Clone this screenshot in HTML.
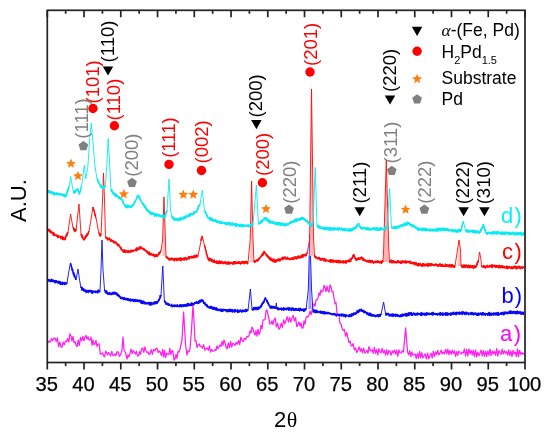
<!DOCTYPE html>
<html><head><meta charset="utf-8"><style>
html,body{margin:0;padding:0;background:#fff;}
svg{display:block;font-family:"Liberation Sans",Arial,sans-serif;}
</style></head><body>
<svg width="550" height="437" viewBox="0 0 550 437">
<rect width="550" height="437" fill="#fff"/>
<g fill="none" stroke="#ff1ff0" stroke-width="1.25" stroke-linejoin="round"><polyline points="48.0,343.0 49.2,340.9 50.3,342.1 51.5,338.7 52.7,340.6 53.8,338.2 55.0,338.0 56.2,341.6 57.4,337.9 58.6,346.7 59.8,342.0 61.0,347.0 62.1,347.0 63.2,342.2 64.3,344.7 65.4,341.1 66.6,341.7 67.7,338.5 68.8,342.2 69.9,333.8 71.0,336.0 72.0,341.1 73.0,336.3 74.0,342.5 75.0,341.7 76.0,345.0 77.1,346.7 78.2,340.0 79.4,345.5 80.5,337.4 81.6,340.7 82.8,336.4 83.9,340.8 85.0,337.0 86.0,335.4 87.0,339.2 88.0,336.7 89.0,340.1 90.0,340.0 91.0,337.0 92.0,345.1 93.0,340.0 94.0,344.7 95.0,344.0 96.0,340.3 97.0,346.5 98.0,344.0 99.2,343.8 100.3,354.1 101.5,354.0 102.6,352.8 103.7,356.0 104.7,356.8 105.6,351.2 106.6,352.6 107.6,355.0 108.5,352.6 109.5,354.0 110.6,355.9 111.8,351.4 112.9,355.7 114.0,355.5 114.9,353.8 115.9,355.8 116.8,352.0 118.0,351.6 119.3,356.3 120.5,355.0 122.0,350.0 123.0,337.0 124.0,350.0 125.5,352.6 127.0,359.0 128.0,355.0 129.0,356.9 130.0,353.4 131.1,349.1 132.2,353.8 133.2,350.5 134.3,352.0 135.4,354.0 136.4,351.1 137.5,356.0 138.6,355.5 139.6,351.7 140.5,354.3 141.5,349.0 142.6,347.9 143.8,352.4 144.9,346.8 146.0,351.0 147.0,352.5 148.0,351.9 149.0,354.5 150.0,354.0 151.2,349.7 152.4,354.3 153.6,349.3 154.8,351.0 156.0,348.3 157.1,348.3 158.2,352.5 159.4,351.0 160.5,352.6 161.5,355.7 162.6,349.4 163.6,357.0 164.6,350.4 165.6,357.5 166.7,353.3 167.7,354.0 168.8,354.6 169.8,348.4 170.9,354.6 172.0,350.5 173.0,351.5 174.0,360.0 175.0,359.0 176.0,354.4 177.0,358.3 178.0,351.5 179.0,352.1 180.0,349.0 182.0,340.0 183.6,312.0 185.0,335.0 185.6,345.0 187.0,355.0 188.0,351.0 189.0,351.9 190.0,349.0 191.5,330.0 193.0,305.0 194.5,330.0 195.0,341.0 196.0,340.6 197.0,347.5 198.0,345.0 199.1,344.0 200.3,346.6 201.4,346.2 202.6,348.3 203.7,344.6 204.9,350.1 206.0,349.0 207.1,347.8 208.3,350.3 209.4,345.9 210.6,352.1 211.7,349.3 212.9,351.3 214.0,351.0 215.0,349.6 216.0,350.4 217.0,345.8 218.0,348.7 219.0,347.0 220.0,345.1 221.0,346.4 222.0,341.5 223.0,345.4 224.0,340.0 225.0,342.7 226.0,347.0 227.1,348.9 228.3,343.0 229.4,347.6 230.6,341.3 231.7,347.0 232.9,343.2 234.0,344.0 235.1,345.3 236.3,342.3 237.4,344.2 238.6,340.4 239.7,344.7 240.9,337.2 242.0,340.0 243.2,341.6 244.4,338.3 245.6,339.5 246.8,336.3 248.0,337.0 249.0,335.6 250.0,330.8 251.0,333.0 252.0,327.0 253.0,328.8 254.0,332.9 255.0,335.0 256.0,330.7 257.0,336.2 258.0,329.2 259.0,334.5 260.0,332.0 261.0,325.4 262.0,328.8 263.0,319.8 264.0,320.0 265.0,319.7 266.0,311.2 267.0,310.0 270.0,324.0 271.0,323.7 272.0,320.8 273.0,324.5 274.0,320.0 275.2,318.0 276.4,326.9 277.6,323.2 278.8,329.2 280.0,328.0 281.2,323.1 282.4,327.5 283.6,319.9 284.8,323.9 286.0,320.0 287.2,316.8 288.4,322.1 289.6,317.4 290.8,322.1 292.0,318.0 293.2,315.4 294.4,321.1 295.6,317.7 296.8,326.7 298.0,324.0 299.0,322.0 300.0,326.2 301.0,322.8 302.0,328.1 303.0,328.0 304.0,320.8 305.0,324.1 306.0,318.0 307.0,316.4 308.0,317.0 309.0,315.0 310.0,311.0 311.0,314.8 312.0,311.0 313.0,304.4 314.0,304.0 315.0,306.2 316.0,299.8 317.0,299.9 318.0,298.0 319.0,292.8 320.0,295.4 321.0,289.9 322.0,292.0 323.0,291.2 324.0,285.4 325.0,287.0 326.0,291.6 327.0,286.1 328.0,291.0 329.0,292.0 330.0,284.8 331.0,287.0 332.0,291.8 333.0,291.5 334.0,298.0 335.0,303.6 336.0,302.4 337.0,313.2 338.0,314.0 339.0,315.4 340.0,323.3 341.0,324.0 342.0,328.0 343.2,330.5 344.4,329.5 345.6,336.2 346.8,332.5 348.0,338.0 349.0,342.6 350.0,341.1 351.0,345.7 352.0,346.0 353.2,343.6 354.4,349.9 355.6,348.0 356.8,352.6 358.0,350.0 359.1,346.9 360.3,351.3 361.4,348.5 362.6,352.9 363.7,348.2 364.9,353.2 366.0,352.0 367.0,350.3 368.0,353.2 369.0,346.6 370.0,350.0 371.1,351.0 372.2,349.6 373.3,353.3 374.4,347.3 375.6,353.4 376.7,349.4 377.8,355.0 378.9,348.6 380.0,352.0 381.1,352.6 382.2,348.3 383.3,352.9 384.4,350.3 385.6,355.1 386.7,349.7 387.8,354.9 388.9,350.6 390.0,351.5 391.1,355.2 392.2,350.8 393.3,352.9 394.4,350.0 395.6,354.0 396.7,350.1 397.8,356.3 398.9,349.9 400.0,353.0 401.2,353.1 402.3,350.8 403.5,352.0 405.6,328.0 407.6,352.0 408.7,354.9 409.7,350.8 410.8,356.5 411.9,351.9 412.9,355.2 414.0,355.0 415.1,353.8 416.2,358.6 417.3,353.5 418.4,358.4 419.6,351.3 420.7,358.0 421.8,352.6 422.9,358.0 424.0,355.5 425.2,353.9 426.4,359.0 427.6,353.1 428.8,358.8 430.0,355.0 431.1,353.3 432.2,358.1 433.3,351.1 434.4,356.7 435.6,351.9 436.7,354.6 437.8,350.3 438.9,354.9 440.0,353.0 441.1,350.2 442.2,353.8 443.3,352.2 444.4,353.8 445.6,349.5 446.7,353.9 447.8,349.2 448.9,354.5 450.0,350.3 451.1,354.4 452.2,350.1 453.3,353.4 454.4,350.8 455.6,356.4 456.7,351.5 457.8,355.3 458.9,351.0 460.0,352.5 461.1,354.0 462.2,352.1 463.3,353.1 464.4,348.8 465.6,356.0 466.7,349.4 467.8,356.0 468.9,348.9 470.0,353.7 471.1,350.3 472.2,355.0 473.3,350.4 474.4,356.6 475.6,349.8 476.7,356.8 477.8,352.1 478.9,355.7 480.0,353.0 481.1,350.1 482.2,356.0 483.3,350.3 484.4,356.3 485.6,351.4 486.7,356.6 487.8,350.9 488.9,355.3 490.0,349.1 491.1,355.7 492.2,351.2 493.3,353.9 494.4,351.1 495.6,355.3 496.7,348.6 497.8,356.2 498.9,350.7 500.0,352.5 501.1,354.4 502.2,349.2 503.3,354.0 504.4,350.7 505.5,353.1 506.5,351.6 507.6,355.0 508.7,349.8 509.8,355.3 510.9,351.0 512.0,356.6 513.1,350.1 514.2,353.8 515.3,352.2 516.4,356.7 517.5,348.9 518.5,356.6 519.6,350.3 520.7,354.5 521.8,352.2 522.9,354.3 524.0,353.0"/></g><polygon points="308.3,309 309.8,234 311.6,309" fill="#a0a0f8"/><g fill="none" stroke="#0a0af5" stroke-width="0.9" stroke-linejoin="round"><polyline points="47.0,280.0 47.4,279.6 47.8,281.0 48.2,279.6 48.6,281.2 49.0,279.3 49.4,280.6 49.8,280.3 50.2,281.8 50.6,280.1 51.0,281.1 51.4,279.2 51.8,281.6 52.2,279.6 52.6,281.7 53.0,281.0 53.4,280.1 53.8,281.6 54.2,280.3 54.6,282.7 55.0,280.6 55.4,282.8 55.8,280.6 56.2,282.0 56.6,280.7 57.0,282.0 57.4,283.0 57.8,281.6 58.2,282.5 58.6,281.1 59.0,283.3 59.4,281.5 59.8,284.0 60.2,281.7 60.6,284.3 61.0,282.3 61.4,284.3 61.8,282.4 62.2,284.7 62.6,282.1 63.0,283.8 63.4,283.3 63.8,284.1 64.2,282.3 64.6,284.6 65.0,284.0 65.4,282.8 65.8,284.2 66.2,282.6 66.6,283.9 67.0,283.0 68.6,273.0 70.4,263.0 70.8,263.9 71.3,266.9 71.7,266.6 72.1,270.4 72.6,269.4 73.0,272.0 73.4,274.4 73.8,272.7 74.2,276.5 74.6,274.9 75.0,277.0 75.5,278.9 76.0,280.0 78.0,269.0 79.4,279.0 81.0,288.0 81.4,287.0 81.8,290.1 82.2,287.5 82.6,290.1 83.0,288.4 83.4,290.2 83.8,288.8 84.2,291.3 84.6,290.2 85.0,291.0 85.4,291.3 85.8,289.8 86.2,292.6 86.6,290.9 87.0,292.4 87.4,290.5 87.8,291.6 88.2,290.8 88.6,292.5 89.0,290.1 89.4,291.6 89.8,290.5 90.2,291.7 90.6,290.4 91.0,292.2 91.4,290.3 91.8,293.2 92.2,290.9 92.6,293.3 93.0,291.2 93.4,292.1 93.8,290.9 94.2,292.1 94.6,291.5 95.0,292.0 95.4,292.6 95.8,290.9 96.2,292.1 96.7,291.5 97.1,292.9 97.5,290.9 97.9,292.9 98.3,290.0 98.8,291.9 99.2,290.4 99.6,291.9 100.0,291.0 101.0,270.0 102.0,240.0 103.0,270.0 104.6,291.0 105.0,290.3 105.4,292.5 105.8,290.9 106.2,293.1 106.6,290.9 107.0,293.5 107.4,292.2 107.8,294.3 108.2,293.0 108.6,294.3 109.0,294.0 109.4,292.5 109.8,294.7 110.2,292.9 110.6,293.9 110.9,293.0 111.3,294.6 111.7,293.4 112.1,294.5 112.5,292.5 112.9,293.7 113.3,292.4 113.7,294.1 114.1,292.2 114.4,293.8 114.8,292.1 115.2,294.3 115.6,292.9 116.0,293.0 116.4,293.6 116.8,292.8 117.2,295.7 117.7,294.2 118.1,295.8 118.5,294.5 118.9,296.5 119.3,295.7 119.8,297.3 120.2,296.5 120.6,298.5 121.0,298.0 121.4,297.5 121.8,298.9 122.2,297.1 122.6,298.6 123.0,297.6 123.4,299.7 123.8,298.1 124.2,299.3 124.6,297.7 125.0,299.5 125.4,298.7 125.8,299.9 126.2,298.2 126.6,299.7 127.0,298.9 127.4,300.2 127.8,298.4 128.2,300.5 128.6,298.6 129.0,300.0 129.4,300.4 129.8,299.5 130.2,301.1 130.6,298.8 131.0,301.0 131.4,299.8 131.8,300.6 132.2,299.5 132.6,300.8 133.0,299.2 133.4,301.7 133.8,300.1 134.2,301.0 134.6,299.3 135.0,301.6 135.4,299.4 135.8,301.3 136.2,300.4 136.6,301.3 137.0,299.6 137.4,301.4 137.8,300.3 138.2,301.6 138.6,300.2 139.0,301.0 139.4,301.8 139.8,299.9 140.2,301.8 140.6,301.4 141.0,303.1 141.4,300.5 141.8,303.4 142.2,301.3 142.6,303.6 143.0,300.9 143.4,302.9 143.8,301.4 144.2,304.0 144.6,301.8 145.0,303.0 145.4,303.9 145.8,302.6 146.2,303.9 146.7,302.9 147.1,303.7 147.5,302.6 147.9,304.1 148.3,302.4 148.8,304.0 149.2,302.5 149.6,305.0 150.0,304.0 150.4,302.5 150.8,305.2 151.2,302.3 151.6,304.5 152.0,303.3 152.4,304.6 152.8,302.9 153.2,303.8 153.6,302.1 154.0,303.9 154.4,302.2 154.8,304.2 155.2,301.7 155.6,303.2 156.0,302.0 156.4,303.7 156.8,301.5 157.2,303.4 157.6,301.5 158.0,302.0 158.4,301.5 158.8,299.4 159.1,300.6 159.5,298.1 159.9,298.8 160.2,295.4 160.6,297.1 161.0,295.0 162.8,266.0 164.4,302.0 164.8,301.0 165.2,302.7 165.6,301.8 166.0,304.3 166.4,303.0 166.8,304.0 167.2,303.2 167.6,304.9 168.0,303.5 168.4,305.3 168.8,303.6 169.2,305.2 169.6,305.0 170.0,305.5 170.4,305.8 170.8,305.2 171.2,305.8 171.6,304.1 172.0,306.9 172.4,305.4 172.8,306.5 173.2,305.1 173.6,306.3 174.0,305.1 174.4,306.7 174.8,304.8 175.2,306.4 175.6,305.4 176.0,306.4 176.4,305.5 176.8,306.7 177.2,304.7 177.6,306.5 178.0,305.6 178.4,306.3 178.8,305.3 179.2,306.9 179.6,304.8 180.0,306.0 180.4,306.6 180.8,304.6 181.2,306.8 181.6,305.0 182.0,306.3 182.4,304.8 182.8,306.7 183.2,304.8 183.7,306.5 184.1,304.6 184.5,305.8 184.9,304.4 185.3,306.3 185.7,304.9 186.1,305.8 186.5,304.3 186.9,306.3 187.3,303.5 187.7,305.5 188.1,303.4 188.5,305.9 188.9,304.1 189.3,305.3 189.8,304.2 190.2,305.7 190.6,303.3 191.0,305.7 191.4,303.0 191.8,305.2 192.2,303.0 192.6,305.0 193.0,304.0 193.4,303.6 193.8,304.7 194.2,303.4 194.6,303.8 195.0,302.1 195.3,303.4 195.7,302.7 196.1,303.2 196.5,301.4 196.9,303.0 197.3,302.3 197.7,303.6 198.1,301.8 198.5,303.3 198.9,300.8 199.3,303.0 199.7,300.2 200.1,302.4 200.4,300.1 200.8,301.4 201.2,299.8 201.6,301.7 202.0,299.6 202.4,300.6 202.8,301.4 203.2,300.4 203.6,303.4 204.0,302.2 204.4,303.5 204.8,302.4 205.2,305.1 205.6,303.8 206.0,305.1 206.4,304.7 206.8,306.6 207.2,304.9 207.6,307.2 208.0,307.0 208.4,306.5 208.8,307.9 209.2,306.7 209.6,308.1 210.0,307.2 210.4,308.4 210.8,306.2 211.2,308.5 211.6,306.7 212.0,308.4 212.4,307.0 212.8,309.4 213.2,307.2 213.6,309.2 214.0,307.7 214.4,309.6 214.8,307.3 215.2,309.2 215.6,308.6 216.0,310.2 216.4,307.7 216.8,310.0 217.2,308.6 217.6,310.5 218.0,309.1 218.4,310.1 218.8,309.3 219.2,310.7 219.6,309.3 220.0,310.0 220.4,310.5 220.8,309.0 221.2,311.5 221.6,309.5 222.0,311.2 222.4,309.4 222.8,311.4 223.2,309.2 223.6,310.7 224.0,309.8 224.4,310.4 224.8,309.4 225.2,310.9 225.6,309.9 226.0,310.9 226.4,309.7 226.8,311.5 227.2,310.0 227.6,311.9 228.0,309.6 228.4,311.4 228.8,309.7 229.2,311.7 229.6,309.2 230.0,311.4 230.4,309.7 230.8,311.7 231.2,309.3 231.6,311.3 232.0,309.5 232.4,312.1 232.8,309.9 233.2,311.1 233.6,310.2 234.0,311.8 234.4,309.7 234.8,312.2 235.2,309.5 235.6,311.3 236.0,310.4 236.4,311.3 236.8,310.4 237.2,312.0 237.6,309.6 238.0,312.3 238.4,310.4 238.8,312.3 239.2,310.4 239.6,311.7 240.0,311.0 240.4,309.8 240.8,311.2 241.2,310.6 241.6,312.2 242.0,310.3 242.4,311.5 242.8,309.9 243.2,311.9 243.6,310.6 244.0,311.4 244.4,310.0 244.8,311.5 245.2,310.2 245.6,311.6 246.0,309.2 246.4,311.3 246.8,309.7 247.2,310.9 247.6,310.0 248.0,310.5 250.4,289.0 252.0,309.0 252.4,310.0 252.8,308.6 253.2,310.2 253.6,307.4 254.0,309.0 254.4,307.3 254.8,309.3 255.2,307.4 255.6,309.7 256.0,308.0 256.4,309.5 256.8,307.4 257.2,309.6 257.6,307.8 258.0,309.4 258.4,306.8 258.8,309.2 259.2,307.2 259.6,308.4 260.0,308.0 260.4,306.5 260.8,307.3 261.2,304.8 261.6,306.3 262.0,303.7 262.4,304.3 262.8,302.2 263.2,303.5 263.6,301.4 264.0,302.5 264.4,299.4 264.8,300.1 265.2,297.7 265.6,298.4 266.0,299.5 266.4,299.4 266.8,301.9 267.2,300.6 267.6,303.2 268.0,302.1 268.4,304.6 268.8,304.1 269.2,305.8 269.6,306.0 270.0,307.0 270.4,308.2 270.8,306.0 271.2,308.1 271.6,306.1 272.0,308.0 272.4,306.9 272.8,308.1 273.2,306.2 273.6,307.8 274.0,306.8 274.4,308.2 274.8,306.6 275.2,308.5 275.6,307.3 276.0,308.0 276.3,303.0 276.6,308.0 277.0,308.8 277.5,307.4 277.9,309.6 278.3,307.9 278.7,309.9 279.1,308.4 279.6,309.4 280.0,309.0 280.4,308.7 280.8,309.3 281.2,307.8 281.6,310.1 282.0,308.6 282.4,309.4 282.8,308.3 283.2,310.2 283.6,307.7 284.0,310.2 284.4,308.1 284.8,309.3 285.2,308.3 285.6,309.4 286.0,308.1 286.4,309.9 286.8,308.6 287.2,309.5 287.6,307.8 288.0,309.2 288.4,307.8 288.8,310.4 289.2,307.6 289.6,309.7 290.0,309.0 290.4,308.1 290.8,310.0 291.2,308.1 291.6,310.6 292.0,308.0 292.4,309.7 292.8,307.9 293.2,310.0 293.6,308.3 294.0,310.4 294.4,309.1 294.8,310.5 295.2,308.3 295.6,310.2 296.0,308.5 296.4,310.2 296.8,309.0 297.2,310.3 297.6,309.3 298.0,310.3 298.4,308.5 298.8,310.3 299.2,308.7 299.6,311.0 300.0,308.3 300.4,310.0 300.8,308.5 301.2,310.7 301.6,309.5 302.0,310.4 302.4,309.3 302.8,310.1 303.2,308.9 303.6,311.3 304.0,309.3 304.4,311.2 304.8,308.8 305.2,310.3 305.6,308.7 306.0,310.0 308.3,290.0 309.8,234.0 311.6,290.0 313.0,311.0 313.4,312.0 313.8,309.7 314.2,312.3 314.6,310.1 315.0,311.9 315.4,310.1 315.8,312.8 316.2,310.2 316.7,312.3 317.1,310.5 317.5,312.5 317.9,311.5 318.3,312.0 318.7,311.6 319.1,312.4 319.5,311.6 319.9,312.9 320.3,311.0 320.7,313.1 321.1,311.5 321.5,313.3 321.9,311.8 322.3,313.2 322.8,311.3 323.2,313.3 323.6,312.2 324.0,314.1 324.4,311.6 324.8,313.5 325.2,312.2 325.6,313.8 326.0,313.0 326.4,312.1 326.8,313.6 327.2,313.0 327.6,313.7 328.0,312.1 328.4,313.7 328.8,312.7 329.2,313.9 329.6,313.2 330.0,314.0 330.4,313.0 330.8,314.2 331.2,313.7 331.6,314.2 332.0,313.6 332.4,314.9 332.8,313.9 333.2,314.4 333.6,313.5 334.0,315.0 334.4,313.3 334.8,314.7 335.2,313.8 335.6,315.3 336.0,314.5 336.4,316.2 336.8,314.4 337.2,315.1 337.6,314.1 338.0,315.0 338.4,315.4 338.8,314.1 339.2,315.7 339.6,314.8 340.0,315.4 340.4,314.1 340.8,315.8 341.2,314.1 341.6,316.1 342.0,313.9 342.4,315.9 342.8,314.9 343.2,315.9 343.6,314.2 344.0,316.5 344.4,314.9 344.8,315.8 345.2,314.5 345.6,317.1 346.0,314.7 346.4,315.9 346.8,315.5 347.2,316.0 347.6,315.4 348.0,316.0 348.4,315.6 348.8,316.9 349.2,314.6 349.6,316.4 350.0,316.0 350.4,314.3 350.8,316.4 351.2,314.2 351.6,316.6 352.0,313.6 352.4,315.0 352.8,314.0 353.2,315.4 353.6,312.8 354.0,314.0 354.4,314.0 354.8,313.0 355.2,314.6 355.6,312.8 355.9,313.6 356.3,312.1 356.7,313.5 357.1,310.8 357.5,312.4 357.9,310.6 358.3,312.7 358.7,310.1 359.1,312.0 359.4,309.5 359.8,311.3 360.2,309.7 360.6,310.7 361.0,310.0 361.4,309.0 361.8,311.3 362.2,310.2 362.7,311.4 363.1,310.1 363.5,312.5 363.9,310.6 364.3,312.7 364.8,311.4 365.2,312.9 365.6,311.6 366.0,313.0 366.4,313.3 366.8,312.5 367.2,314.6 367.6,312.5 368.0,314.0 368.4,313.4 368.8,315.3 369.2,313.2 369.6,315.7 370.0,313.2 370.4,315.4 370.8,313.4 371.2,316.1 371.6,314.5 372.0,315.9 372.4,315.2 372.8,316.2 373.2,314.3 373.6,316.1 374.0,316.0 374.4,315.0 374.8,316.2 375.2,315.6 375.6,316.8 375.9,315.2 376.3,315.9 376.7,315.3 377.1,316.6 377.5,314.6 377.9,315.6 378.3,314.9 378.7,316.8 379.1,314.8 379.4,316.1 379.8,314.5 380.2,316.3 380.6,314.1 381.0,315.0 383.6,302.0 385.6,314.0 386.0,315.3 386.4,313.2 386.8,314.6 387.2,313.8 387.6,314.5 388.0,313.1 388.4,314.7 388.8,314.3 389.2,316.0 389.6,314.1 390.0,316.0 390.4,314.4 390.8,315.5 391.2,314.3 391.6,316.1 392.0,313.9 392.4,316.0 392.8,313.8 393.2,316.4 393.6,314.5 394.0,316.1 394.4,314.5 394.8,315.6 395.2,314.1 395.6,316.3 396.0,314.2 396.4,315.9 396.8,314.7 397.2,316.4 397.6,314.5 398.0,316.0 398.4,315.2 398.8,316.6 399.2,315.6 399.6,316.8 400.0,316.0 400.4,314.8 400.8,316.6 401.2,314.7 401.6,316.6 402.0,315.2 402.4,316.1 402.8,313.9 403.2,316.0 403.6,314.5 404.0,315.5 404.4,314.7 404.8,315.4 405.2,313.6 405.6,316.0 406.0,313.5 406.4,316.2 406.8,313.7 407.2,316.0 407.6,313.6 408.0,315.1 408.4,312.9 408.8,315.6 409.2,312.7 409.6,314.9 410.0,314.0 410.4,312.8 410.8,314.7 411.2,312.5 411.6,315.4 412.0,313.5 412.4,315.4 412.8,313.6 413.2,314.3 413.6,312.9 414.0,314.5 414.4,313.1 414.8,315.0 415.2,313.8 415.6,315.2 416.0,313.5 416.4,314.7 416.8,313.4 417.2,315.2 417.6,312.8 418.0,314.5 418.4,313.7 418.8,314.6 419.2,313.3 419.6,314.3 420.0,313.6 420.4,315.2 420.8,312.9 421.2,315.5 421.6,312.5 422.0,315.3 422.4,313.3 422.8,314.4 423.2,313.4 423.6,314.8 424.0,313.1 424.4,314.9 424.8,313.4 425.2,315.3 425.6,313.5 426.0,314.8 426.4,312.7 426.8,315.2 427.2,313.4 427.6,314.5 428.0,312.8 428.4,314.2 428.8,313.7 429.2,314.9 429.6,313.1 430.0,314.0 430.4,314.4 430.8,313.8 431.2,314.4 431.6,312.8 432.0,314.8 432.4,312.5 432.8,315.2 433.2,312.5 433.6,314.2 434.0,313.6 434.4,314.2 434.8,313.3 435.2,314.6 435.6,313.8 436.0,314.9 436.4,313.7 436.8,314.6 437.2,313.5 437.6,315.2 438.0,313.3 438.4,314.5 438.8,313.8 439.2,314.7 439.6,313.0 440.0,315.1 440.4,312.6 440.8,315.2 441.2,313.5 441.6,314.3 442.0,312.8 442.4,315.2 442.8,313.2 443.2,315.3 443.6,313.1 444.0,314.5 444.4,313.6 444.8,314.2 445.2,313.0 445.6,315.4 446.0,312.6 446.4,314.8 446.8,313.0 447.2,315.4 447.6,312.8 448.0,315.0 448.4,313.3 448.8,314.8 449.2,313.6 449.6,314.4 450.0,314.0 450.4,312.9 450.8,315.4 451.2,313.0 451.6,314.5 452.0,313.2 452.4,314.5 452.8,312.5 453.2,314.4 453.6,312.2 454.0,314.0 454.4,313.0 454.8,314.4 455.2,312.8 455.6,314.7 456.0,312.1 456.4,314.8 456.8,312.3 457.2,313.5 457.6,312.3 458.0,314.1 458.4,312.4 458.8,313.6 459.2,312.0 459.6,314.4 460.0,313.0 460.4,312.7 460.8,314.1 461.2,312.4 461.6,313.9 462.0,311.7 462.4,314.6 462.8,312.1 463.2,313.6 463.6,311.8 464.0,313.6 464.4,312.6 464.8,314.5 465.2,312.7 465.6,313.8 466.0,311.9 466.4,314.7 466.8,312.8 467.2,314.0 467.6,312.8 468.0,313.7 468.4,312.9 468.8,314.9 469.2,313.2 469.6,313.9 470.0,313.1 470.4,313.8 470.8,312.7 471.2,314.7 471.6,312.3 472.0,314.6 472.4,312.4 472.8,313.8 473.2,313.1 473.6,315.1 474.0,313.5 474.4,314.2 474.8,312.9 475.2,314.3 475.6,312.9 476.0,314.0 476.4,313.4 476.8,315.3 477.2,313.5 477.6,315.3 478.0,313.5 478.4,315.4 478.8,312.9 479.2,315.0 479.6,313.6 480.0,314.0 480.4,314.2 480.8,312.8 481.2,314.4 481.6,313.6 482.0,315.3 482.4,312.7 482.8,314.2 483.2,312.6 483.6,314.9 484.0,313.3 484.4,314.3 484.8,313.3 485.2,315.5 485.6,313.5 486.0,314.3 486.4,313.7 486.8,314.3 487.2,313.4 487.6,315.4 488.0,313.7 488.4,314.4 488.8,312.6 489.2,315.5 489.6,312.5 490.0,314.5 490.4,313.4 490.8,315.4 491.2,313.2 491.6,315.1 492.0,313.4 492.4,314.2 492.8,313.4 493.2,315.2 493.6,312.8 494.0,314.9 494.4,313.2 494.8,314.9 495.2,313.3 495.6,314.9 496.0,312.7 496.4,314.4 496.8,313.0 497.2,315.4 497.6,312.7 498.0,314.4 498.4,312.5 498.8,315.3 499.2,313.6 499.6,314.5 500.0,314.0 500.4,313.5 500.8,314.1 501.2,312.3 501.6,314.4 502.0,312.3 502.4,313.9 502.8,313.4 503.2,314.8 503.6,312.2 504.0,314.8 504.4,312.2 504.8,314.1 505.2,311.9 505.6,313.3 506.0,312.1 506.4,313.7 506.8,312.5 507.2,313.8 507.6,312.1 508.0,313.5 508.4,311.9 508.8,313.1 509.2,311.8 509.6,313.4 510.0,310.9 510.4,313.7 510.8,310.9 511.2,313.4 511.6,311.5 512.0,312.0 512.4,313.5 512.8,311.6 513.2,312.4 513.6,311.3 514.0,313.3 514.4,311.6 514.8,313.3 515.2,311.7 515.6,313.8 516.0,311.6 516.4,313.2 516.8,311.5 517.2,313.8 517.6,311.0 518.0,313.4 518.4,311.8 518.8,313.6 519.2,312.4 519.6,313.4 520.0,311.4 520.4,313.9 520.8,312.5 521.2,314.1 521.6,312.1 522.0,314.3 522.4,312.2 522.8,313.3 523.2,312.0 523.6,314.3 524.0,313.0"/><polyline points="47.0,280.0 47.4,279.6 47.8,281.0 48.2,279.6 48.6,281.2 49.0,279.3 49.4,280.6 49.8,280.3 50.2,281.8 50.6,280.1 51.0,281.1 51.4,279.2 51.8,281.6 52.2,279.6 52.6,281.7 53.0,281.0 53.4,280.1 53.8,281.6 54.2,280.3 54.6,282.7 55.0,280.6 55.4,282.8 55.8,280.6 56.2,282.0 56.6,280.7 57.0,282.0 57.4,283.0 57.8,281.6 58.2,282.5 58.6,281.1 59.0,283.3 59.4,281.5 59.8,284.0 60.2,281.7 60.6,284.3 61.0,282.3 61.4,284.3 61.8,282.4 62.2,284.7 62.6,282.1 63.0,283.8 63.4,283.3 63.8,284.1 64.2,282.3 64.6,284.6 65.0,284.0 65.4,282.8 65.8,284.2 66.2,282.6 66.6,283.9 67.0,283.0" stroke-width="1.3"/><polyline points="70.4,263.0 70.8,263.9 71.3,266.9 71.7,266.6 72.1,270.4 72.6,269.4 73.0,272.0 73.4,274.4 73.8,272.7 74.2,276.5 74.6,274.9 75.0,277.0 75.5,278.9 76.0,280.0" stroke-width="1.3"/><polyline points="81.0,288.0 81.4,287.0 81.8,290.1 82.2,287.5 82.6,290.1 83.0,288.4 83.4,290.2 83.8,288.8 84.2,291.3 84.6,290.2 85.0,291.0 85.4,291.3 85.8,289.8 86.2,292.6 86.6,290.9 87.0,292.4 87.4,290.5 87.8,291.6 88.2,290.8 88.6,292.5 89.0,290.1 89.4,291.6 89.8,290.5 90.2,291.7 90.6,290.4 91.0,292.2 91.4,290.3 91.8,293.2 92.2,290.9 92.6,293.3 93.0,291.2 93.4,292.1 93.8,290.9 94.2,292.1 94.6,291.5 95.0,292.0 95.4,292.6 95.8,290.9 96.2,292.1 96.7,291.5 97.1,292.9 97.5,290.9 97.9,292.9 98.3,290.0 98.8,291.9 99.2,290.4 99.6,291.9 100.0,291.0" stroke-width="1.3"/><polyline points="104.6,291.0 105.0,290.3 105.4,292.5 105.8,290.9 106.2,293.1 106.6,290.9 107.0,293.5 107.4,292.2 107.8,294.3 108.2,293.0 108.6,294.3 109.0,294.0 109.4,292.5 109.8,294.7 110.2,292.9 110.6,293.9 110.9,293.0 111.3,294.6 111.7,293.4 112.1,294.5 112.5,292.5 112.9,293.7 113.3,292.4 113.7,294.1 114.1,292.2 114.4,293.8 114.8,292.1 115.2,294.3 115.6,292.9 116.0,293.0 116.4,293.6 116.8,292.8 117.2,295.7 117.7,294.2 118.1,295.8 118.5,294.5 118.9,296.5 119.3,295.7 119.8,297.3 120.2,296.5 120.6,298.5 121.0,298.0 121.4,297.5 121.8,298.9 122.2,297.1 122.6,298.6 123.0,297.6 123.4,299.7 123.8,298.1 124.2,299.3 124.6,297.7 125.0,299.5 125.4,298.7 125.8,299.9 126.2,298.2 126.6,299.7 127.0,298.9 127.4,300.2 127.8,298.4 128.2,300.5 128.6,298.6 129.0,300.0 129.4,300.4 129.8,299.5 130.2,301.1 130.6,298.8 131.0,301.0 131.4,299.8 131.8,300.6 132.2,299.5 132.6,300.8 133.0,299.2 133.4,301.7 133.8,300.1 134.2,301.0 134.6,299.3 135.0,301.6 135.4,299.4 135.8,301.3 136.2,300.4 136.6,301.3 137.0,299.6 137.4,301.4 137.8,300.3 138.2,301.6 138.6,300.2 139.0,301.0 139.4,301.8 139.8,299.9 140.2,301.8 140.6,301.4 141.0,303.1 141.4,300.5 141.8,303.4 142.2,301.3 142.6,303.6 143.0,300.9 143.4,302.9 143.8,301.4 144.2,304.0 144.6,301.8 145.0,303.0 145.4,303.9 145.8,302.6 146.2,303.9 146.7,302.9 147.1,303.7 147.5,302.6 147.9,304.1 148.3,302.4 148.8,304.0 149.2,302.5 149.6,305.0 150.0,304.0 150.4,302.5 150.8,305.2 151.2,302.3 151.6,304.5 152.0,303.3 152.4,304.6 152.8,302.9 153.2,303.8 153.6,302.1 154.0,303.9 154.4,302.2 154.8,304.2 155.2,301.7 155.6,303.2 156.0,302.0 156.4,303.7 156.8,301.5 157.2,303.4 157.6,301.5 158.0,302.0 158.4,301.5 158.8,299.4 159.1,300.6 159.5,298.1 159.9,298.8 160.2,295.4 160.6,297.1 161.0,295.0" stroke-width="1.3"/><polyline points="164.4,302.0 164.8,301.0 165.2,302.7 165.6,301.8 166.0,304.3 166.4,303.0 166.8,304.0 167.2,303.2 167.6,304.9 168.0,303.5 168.4,305.3 168.8,303.6 169.2,305.2 169.6,305.0 170.0,305.5 170.4,305.8 170.8,305.2 171.2,305.8 171.6,304.1 172.0,306.9 172.4,305.4 172.8,306.5 173.2,305.1 173.6,306.3 174.0,305.1 174.4,306.7 174.8,304.8 175.2,306.4 175.6,305.4 176.0,306.4 176.4,305.5 176.8,306.7 177.2,304.7 177.6,306.5 178.0,305.6 178.4,306.3 178.8,305.3 179.2,306.9 179.6,304.8 180.0,306.0 180.4,306.6 180.8,304.6 181.2,306.8 181.6,305.0 182.0,306.3 182.4,304.8 182.8,306.7 183.2,304.8 183.7,306.5 184.1,304.6 184.5,305.8 184.9,304.4 185.3,306.3 185.7,304.9 186.1,305.8 186.5,304.3 186.9,306.3 187.3,303.5 187.7,305.5 188.1,303.4 188.5,305.9 188.9,304.1 189.3,305.3 189.8,304.2 190.2,305.7 190.6,303.3 191.0,305.7 191.4,303.0 191.8,305.2 192.2,303.0 192.6,305.0 193.0,304.0 193.4,303.6 193.8,304.7 194.2,303.4 194.6,303.8 195.0,302.1 195.3,303.4 195.7,302.7 196.1,303.2 196.5,301.4 196.9,303.0 197.3,302.3 197.7,303.6 198.1,301.8 198.5,303.3 198.9,300.8 199.3,303.0 199.7,300.2 200.1,302.4 200.4,300.1 200.8,301.4 201.2,299.8 201.6,301.7 202.0,299.6 202.4,300.6 202.8,301.4 203.2,300.4 203.6,303.4 204.0,302.2 204.4,303.5 204.8,302.4 205.2,305.1 205.6,303.8 206.0,305.1 206.4,304.7 206.8,306.6 207.2,304.9 207.6,307.2 208.0,307.0 208.4,306.5 208.8,307.9 209.2,306.7 209.6,308.1 210.0,307.2 210.4,308.4 210.8,306.2 211.2,308.5 211.6,306.7 212.0,308.4 212.4,307.0 212.8,309.4 213.2,307.2 213.6,309.2 214.0,307.7 214.4,309.6 214.8,307.3 215.2,309.2 215.6,308.6 216.0,310.2 216.4,307.7 216.8,310.0 217.2,308.6 217.6,310.5 218.0,309.1 218.4,310.1 218.8,309.3 219.2,310.7 219.6,309.3 220.0,310.0 220.4,310.5 220.8,309.0 221.2,311.5 221.6,309.5 222.0,311.2 222.4,309.4 222.8,311.4 223.2,309.2 223.6,310.7 224.0,309.8 224.4,310.4 224.8,309.4 225.2,310.9 225.6,309.9 226.0,310.9 226.4,309.7 226.8,311.5 227.2,310.0 227.6,311.9 228.0,309.6 228.4,311.4 228.8,309.7 229.2,311.7 229.6,309.2 230.0,311.4 230.4,309.7 230.8,311.7 231.2,309.3 231.6,311.3 232.0,309.5 232.4,312.1 232.8,309.9 233.2,311.1 233.6,310.2 234.0,311.8 234.4,309.7 234.8,312.2 235.2,309.5 235.6,311.3 236.0,310.4 236.4,311.3 236.8,310.4 237.2,312.0 237.6,309.6 238.0,312.3 238.4,310.4 238.8,312.3 239.2,310.4 239.6,311.7 240.0,311.0 240.4,309.8 240.8,311.2 241.2,310.6 241.6,312.2 242.0,310.3 242.4,311.5 242.8,309.9 243.2,311.9 243.6,310.6 244.0,311.4 244.4,310.0 244.8,311.5 245.2,310.2 245.6,311.6 246.0,309.2 246.4,311.3 246.8,309.7 247.2,310.9 247.6,310.0 248.0,310.5" stroke-width="1.3"/><polyline points="252.0,309.0 252.4,310.0 252.8,308.6 253.2,310.2 253.6,307.4 254.0,309.0 254.4,307.3 254.8,309.3 255.2,307.4 255.6,309.7 256.0,308.0 256.4,309.5 256.8,307.4 257.2,309.6 257.6,307.8 258.0,309.4 258.4,306.8 258.8,309.2 259.2,307.2 259.6,308.4 260.0,308.0 260.4,306.5 260.8,307.3 261.2,304.8 261.6,306.3 262.0,303.7 262.4,304.3 262.8,302.2 263.2,303.5 263.6,301.4 264.0,302.5 264.4,299.4 264.8,300.1 265.2,297.7 265.6,298.4 266.0,299.5 266.4,299.4 266.8,301.9 267.2,300.6 267.6,303.2 268.0,302.1 268.4,304.6 268.8,304.1 269.2,305.8 269.6,306.0 270.0,307.0 270.4,308.2 270.8,306.0 271.2,308.1 271.6,306.1 272.0,308.0 272.4,306.9 272.8,308.1 273.2,306.2 273.6,307.8 274.0,306.8 274.4,308.2 274.8,306.6 275.2,308.5 275.6,307.3 276.0,308.0" stroke-width="1.3"/><polyline points="276.6,308.0 277.0,308.8 277.5,307.4 277.9,309.6 278.3,307.9 278.7,309.9 279.1,308.4 279.6,309.4 280.0,309.0 280.4,308.7 280.8,309.3 281.2,307.8 281.6,310.1 282.0,308.6 282.4,309.4 282.8,308.3 283.2,310.2 283.6,307.7 284.0,310.2 284.4,308.1 284.8,309.3 285.2,308.3 285.6,309.4 286.0,308.1 286.4,309.9 286.8,308.6 287.2,309.5 287.6,307.8 288.0,309.2 288.4,307.8 288.8,310.4 289.2,307.6 289.6,309.7 290.0,309.0 290.4,308.1 290.8,310.0 291.2,308.1 291.6,310.6 292.0,308.0 292.4,309.7 292.8,307.9 293.2,310.0 293.6,308.3 294.0,310.4 294.4,309.1 294.8,310.5 295.2,308.3 295.6,310.2 296.0,308.5 296.4,310.2 296.8,309.0 297.2,310.3 297.6,309.3 298.0,310.3 298.4,308.5 298.8,310.3 299.2,308.7 299.6,311.0 300.0,308.3 300.4,310.0 300.8,308.5 301.2,310.7 301.6,309.5 302.0,310.4 302.4,309.3 302.8,310.1 303.2,308.9 303.6,311.3 304.0,309.3 304.4,311.2 304.8,308.8 305.2,310.3 305.6,308.7 306.0,310.0" stroke-width="1.3"/><polyline points="313.0,311.0 313.4,312.0 313.8,309.7 314.2,312.3 314.6,310.1 315.0,311.9 315.4,310.1 315.8,312.8 316.2,310.2 316.7,312.3 317.1,310.5 317.5,312.5 317.9,311.5 318.3,312.0 318.7,311.6 319.1,312.4 319.5,311.6 319.9,312.9 320.3,311.0 320.7,313.1 321.1,311.5 321.5,313.3 321.9,311.8 322.3,313.2 322.8,311.3 323.2,313.3 323.6,312.2 324.0,314.1 324.4,311.6 324.8,313.5 325.2,312.2 325.6,313.8 326.0,313.0 326.4,312.1 326.8,313.6 327.2,313.0 327.6,313.7 328.0,312.1 328.4,313.7 328.8,312.7 329.2,313.9 329.6,313.2 330.0,314.0 330.4,313.0 330.8,314.2 331.2,313.7 331.6,314.2 332.0,313.6 332.4,314.9 332.8,313.9 333.2,314.4 333.6,313.5 334.0,315.0 334.4,313.3 334.8,314.7 335.2,313.8 335.6,315.3 336.0,314.5 336.4,316.2 336.8,314.4 337.2,315.1 337.6,314.1 338.0,315.0 338.4,315.4 338.8,314.1 339.2,315.7 339.6,314.8 340.0,315.4 340.4,314.1 340.8,315.8 341.2,314.1 341.6,316.1 342.0,313.9 342.4,315.9 342.8,314.9 343.2,315.9 343.6,314.2 344.0,316.5 344.4,314.9 344.8,315.8 345.2,314.5 345.6,317.1 346.0,314.7 346.4,315.9 346.8,315.5 347.2,316.0 347.6,315.4 348.0,316.0 348.4,315.6 348.8,316.9 349.2,314.6 349.6,316.4 350.0,316.0 350.4,314.3 350.8,316.4 351.2,314.2 351.6,316.6 352.0,313.6 352.4,315.0 352.8,314.0 353.2,315.4 353.6,312.8 354.0,314.0 354.4,314.0 354.8,313.0 355.2,314.6 355.6,312.8 355.9,313.6 356.3,312.1 356.7,313.5 357.1,310.8 357.5,312.4 357.9,310.6 358.3,312.7 358.7,310.1 359.1,312.0 359.4,309.5 359.8,311.3 360.2,309.7 360.6,310.7 361.0,310.0 361.4,309.0 361.8,311.3 362.2,310.2 362.7,311.4 363.1,310.1 363.5,312.5 363.9,310.6 364.3,312.7 364.8,311.4 365.2,312.9 365.6,311.6 366.0,313.0 366.4,313.3 366.8,312.5 367.2,314.6 367.6,312.5 368.0,314.0 368.4,313.4 368.8,315.3 369.2,313.2 369.6,315.7 370.0,313.2 370.4,315.4 370.8,313.4 371.2,316.1 371.6,314.5 372.0,315.9 372.4,315.2 372.8,316.2 373.2,314.3 373.6,316.1 374.0,316.0 374.4,315.0 374.8,316.2 375.2,315.6 375.6,316.8 375.9,315.2 376.3,315.9 376.7,315.3 377.1,316.6 377.5,314.6 377.9,315.6 378.3,314.9 378.7,316.8 379.1,314.8 379.4,316.1 379.8,314.5 380.2,316.3 380.6,314.1 381.0,315.0" stroke-width="1.3"/><polyline points="385.6,314.0 386.0,315.3 386.4,313.2 386.8,314.6 387.2,313.8 387.6,314.5 388.0,313.1 388.4,314.7 388.8,314.3 389.2,316.0 389.6,314.1 390.0,316.0 390.4,314.4 390.8,315.5 391.2,314.3 391.6,316.1 392.0,313.9 392.4,316.0 392.8,313.8 393.2,316.4 393.6,314.5 394.0,316.1 394.4,314.5 394.8,315.6 395.2,314.1 395.6,316.3 396.0,314.2 396.4,315.9 396.8,314.7 397.2,316.4 397.6,314.5 398.0,316.0 398.4,315.2 398.8,316.6 399.2,315.6 399.6,316.8 400.0,316.0 400.4,314.8 400.8,316.6 401.2,314.7 401.6,316.6 402.0,315.2 402.4,316.1 402.8,313.9 403.2,316.0 403.6,314.5 404.0,315.5 404.4,314.7 404.8,315.4 405.2,313.6 405.6,316.0 406.0,313.5 406.4,316.2 406.8,313.7 407.2,316.0 407.6,313.6 408.0,315.1 408.4,312.9 408.8,315.6 409.2,312.7 409.6,314.9 410.0,314.0 410.4,312.8 410.8,314.7 411.2,312.5 411.6,315.4 412.0,313.5 412.4,315.4 412.8,313.6 413.2,314.3 413.6,312.9 414.0,314.5 414.4,313.1 414.8,315.0 415.2,313.8 415.6,315.2 416.0,313.5 416.4,314.7 416.8,313.4 417.2,315.2 417.6,312.8 418.0,314.5 418.4,313.7 418.8,314.6 419.2,313.3 419.6,314.3 420.0,313.6 420.4,315.2 420.8,312.9 421.2,315.5 421.6,312.5 422.0,315.3 422.4,313.3 422.8,314.4 423.2,313.4 423.6,314.8 424.0,313.1 424.4,314.9 424.8,313.4 425.2,315.3 425.6,313.5 426.0,314.8 426.4,312.7 426.8,315.2 427.2,313.4 427.6,314.5 428.0,312.8 428.4,314.2 428.8,313.7 429.2,314.9 429.6,313.1 430.0,314.0 430.4,314.4 430.8,313.8 431.2,314.4 431.6,312.8 432.0,314.8 432.4,312.5 432.8,315.2 433.2,312.5 433.6,314.2 434.0,313.6 434.4,314.2 434.8,313.3 435.2,314.6 435.6,313.8 436.0,314.9 436.4,313.7 436.8,314.6 437.2,313.5 437.6,315.2 438.0,313.3 438.4,314.5 438.8,313.8 439.2,314.7 439.6,313.0 440.0,315.1 440.4,312.6 440.8,315.2 441.2,313.5 441.6,314.3 442.0,312.8 442.4,315.2 442.8,313.2 443.2,315.3 443.6,313.1 444.0,314.5 444.4,313.6 444.8,314.2 445.2,313.0 445.6,315.4 446.0,312.6 446.4,314.8 446.8,313.0 447.2,315.4 447.6,312.8 448.0,315.0 448.4,313.3 448.8,314.8 449.2,313.6 449.6,314.4 450.0,314.0 450.4,312.9 450.8,315.4 451.2,313.0 451.6,314.5 452.0,313.2 452.4,314.5 452.8,312.5 453.2,314.4 453.6,312.2 454.0,314.0 454.4,313.0 454.8,314.4 455.2,312.8 455.6,314.7 456.0,312.1 456.4,314.8 456.8,312.3 457.2,313.5 457.6,312.3 458.0,314.1 458.4,312.4 458.8,313.6 459.2,312.0 459.6,314.4 460.0,313.0 460.4,312.7 460.8,314.1 461.2,312.4 461.6,313.9 462.0,311.7 462.4,314.6 462.8,312.1 463.2,313.6 463.6,311.8 464.0,313.6 464.4,312.6 464.8,314.5 465.2,312.7 465.6,313.8 466.0,311.9 466.4,314.7 466.8,312.8 467.2,314.0 467.6,312.8 468.0,313.7 468.4,312.9 468.8,314.9 469.2,313.2 469.6,313.9 470.0,313.1 470.4,313.8 470.8,312.7 471.2,314.7 471.6,312.3 472.0,314.6 472.4,312.4 472.8,313.8 473.2,313.1 473.6,315.1 474.0,313.5 474.4,314.2 474.8,312.9 475.2,314.3 475.6,312.9 476.0,314.0 476.4,313.4 476.8,315.3 477.2,313.5 477.6,315.3 478.0,313.5 478.4,315.4 478.8,312.9 479.2,315.0 479.6,313.6 480.0,314.0 480.4,314.2 480.8,312.8 481.2,314.4 481.6,313.6 482.0,315.3 482.4,312.7 482.8,314.2 483.2,312.6 483.6,314.9 484.0,313.3 484.4,314.3 484.8,313.3 485.2,315.5 485.6,313.5 486.0,314.3 486.4,313.7 486.8,314.3 487.2,313.4 487.6,315.4 488.0,313.7 488.4,314.4 488.8,312.6 489.2,315.5 489.6,312.5 490.0,314.5 490.4,313.4 490.8,315.4 491.2,313.2 491.6,315.1 492.0,313.4 492.4,314.2 492.8,313.4 493.2,315.2 493.6,312.8 494.0,314.9 494.4,313.2 494.8,314.9 495.2,313.3 495.6,314.9 496.0,312.7 496.4,314.4 496.8,313.0 497.2,315.4 497.6,312.7 498.0,314.4 498.4,312.5 498.8,315.3 499.2,313.6 499.6,314.5 500.0,314.0 500.4,313.5 500.8,314.1 501.2,312.3 501.6,314.4 502.0,312.3 502.4,313.9 502.8,313.4 503.2,314.8 503.6,312.2 504.0,314.8 504.4,312.2 504.8,314.1 505.2,311.9 505.6,313.3 506.0,312.1 506.4,313.7 506.8,312.5 507.2,313.8 507.6,312.1 508.0,313.5 508.4,311.9 508.8,313.1 509.2,311.8 509.6,313.4 510.0,310.9 510.4,313.7 510.8,310.9 511.2,313.4 511.6,311.5 512.0,312.0 512.4,313.5 512.8,311.6 513.2,312.4 513.6,311.3 514.0,313.3 514.4,311.6 514.8,313.3 515.2,311.7 515.6,313.8 516.0,311.6 516.4,313.2 516.8,311.5 517.2,313.8 517.6,311.0 518.0,313.4 518.4,311.8 518.8,313.6 519.2,312.4 519.6,313.4 520.0,311.4 520.4,313.9 520.8,312.5 521.2,314.1 521.6,312.1 522.0,314.3 522.4,312.2 522.8,313.3 523.2,312.0 523.6,314.3 524.0,313.0" stroke-width="1.3"/></g><polygon points="162.4,256 164,197 165.6,256" fill="#ffc4c4"/><polygon points="250,262 251.6,181 253.2,262" fill="#ffc4c4"/><polygon points="309.6,256 311.5,89 313.6,256" fill="#ffb4b4"/><polygon points="383.6,262 386.3,160 388.8,262" fill="#ffb4b4"/><polygon points="457.4,266 459,240 460.6,266" fill="#ffc0c0"/><g fill="none" stroke="#ff0a0a" stroke-width="0.9" stroke-linejoin="round"><polyline points="47.0,229.0 47.4,227.9 47.8,231.0 48.2,229.7 48.6,230.5 49.0,229.2 49.4,231.9 49.8,230.0 50.2,232.0 50.6,230.7 51.0,233.0 51.4,231.4 51.8,233.0 52.2,232.2 52.6,233.9 53.0,232.4 53.4,235.3 53.8,232.7 54.2,235.3 54.6,233.9 55.0,235.0 55.4,235.7 55.8,235.1 56.2,235.7 56.6,234.9 57.0,236.4 57.4,235.3 57.8,237.5 58.2,235.4 58.6,237.3 59.0,236.1 59.4,236.9 59.8,236.3 60.2,237.4 60.6,236.4 61.0,238.9 61.4,236.5 61.8,238.1 62.2,236.5 62.6,239.3 63.0,237.1 63.4,239.7 63.8,237.3 64.2,239.9 64.6,238.2 65.0,239.0 65.4,239.6 65.8,235.8 66.1,236.7 66.5,234.3 66.9,235.7 67.2,233.0 67.6,233.7 68.0,232.0 70.6,214.0 73.0,228.0 73.4,227.6 73.8,230.1 74.1,228.3 74.5,230.8 74.9,229.2 75.2,231.6 75.6,229.3 76.0,231.0 79.0,204.0 81.0,234.0 81.4,235.5 81.8,234.6 82.1,237.6 82.5,235.9 82.9,238.6 83.2,238.1 83.6,239.8 84.0,240.0 84.4,238.2 84.8,239.0 85.2,236.6 85.7,237.8 86.1,235.3 86.5,236.6 86.9,233.9 87.3,235.8 87.8,233.2 88.2,234.2 88.6,231.6 89.0,232.0 93.0,207.0 93.4,209.3 93.8,209.2 94.1,211.6 94.5,211.7 94.9,215.3 95.2,214.3 95.6,216.9 96.0,218.0 99.0,234.0 99.4,233.1 99.8,235.9 100.2,233.8 100.6,236.0 101.0,236.0 102.5,200.0 103.5,173.0 104.5,200.0 105.5,238.0 105.9,237.0 106.3,238.5 106.7,237.3 107.1,239.0 107.4,238.1 107.8,240.0 108.2,238.5 108.6,239.7 109.0,239.0 109.4,237.9 109.8,239.9 110.2,239.2 110.6,241.1 111.0,239.3 111.4,241.3 111.8,240.2 112.2,241.2 112.6,240.4 113.0,242.1 113.4,240.9 113.8,242.8 114.2,241.4 114.6,242.9 115.0,242.0 115.4,242.2 115.8,243.3 116.2,242.0 116.7,244.0 117.1,243.7 117.5,245.6 117.9,244.2 118.3,245.5 118.8,244.3 119.2,246.5 119.6,246.4 120.0,247.0 120.4,248.1 120.8,247.0 121.1,249.7 121.5,248.7 121.9,250.1 122.2,249.8 122.6,251.3 123.0,251.0 123.4,249.9 123.8,252.3 124.2,249.8 124.6,252.4 125.0,250.0 125.4,252.5 125.8,250.6 126.2,252.0 126.7,250.5 127.1,252.2 127.5,251.4 127.9,252.5 128.3,250.5 128.7,252.2 129.1,251.0 129.5,252.0 129.9,252.5 130.3,250.9 130.7,251.9 131.1,250.0 131.5,251.8 131.9,250.2 132.2,251.7 132.6,250.7 133.0,251.6 133.4,250.2 133.8,250.7 134.2,250.1 134.6,250.5 135.0,250.0 135.4,249.5 135.8,250.7 136.2,248.6 136.6,250.8 137.0,247.7 137.4,250.5 137.8,248.3 138.2,249.4 138.6,248.0 139.0,249.2 139.4,247.1 139.8,249.2 140.2,246.6 140.6,248.1 141.0,247.4 141.4,247.0 141.8,248.9 142.2,248.1 142.7,248.8 143.1,248.2 143.5,249.5 143.9,248.4 144.3,250.3 144.8,249.8 145.2,250.8 145.6,250.2 146.0,251.0 146.4,251.7 146.8,250.7 147.2,252.7 147.6,251.6 148.0,253.5 148.4,252.4 148.8,254.5 149.2,251.9 149.6,254.8 150.0,254.0 150.4,253.4 150.8,255.1 151.2,253.5 151.6,254.8 152.0,254.0 152.4,255.7 152.8,254.5 153.2,255.3 153.6,254.0 154.0,256.0 154.4,254.6 154.8,257.0 155.2,254.8 155.6,256.4 156.0,256.0 156.4,254.3 156.8,256.3 157.2,255.2 157.6,256.3 158.0,255.0 158.4,254.2 158.8,254.6 159.1,252.2 159.5,254.1 159.9,252.3 160.2,252.8 160.6,250.8 161.0,251.0 162.6,240.0 164.0,197.0 165.4,240.0 166.0,256.0 166.4,257.3 166.8,256.6 167.2,258.4 167.6,257.8 168.0,258.5 168.4,259.1 168.8,258.0 169.2,260.1 169.6,258.5 169.9,259.9 170.3,258.4 170.7,259.8 171.1,258.3 171.5,259.8 171.9,257.9 172.3,259.8 172.7,258.9 173.1,259.5 173.4,259.0 173.8,260.6 174.2,258.4 174.6,260.9 175.0,259.5 175.4,258.4 175.8,259.6 176.2,258.4 176.6,260.6 177.0,258.3 177.4,260.2 177.8,258.7 178.2,260.1 178.6,258.1 179.0,259.8 179.4,258.4 179.8,260.1 180.2,257.8 180.6,260.5 181.0,257.8 181.4,260.5 181.8,258.6 182.2,259.6 182.6,258.3 183.0,259.6 183.4,258.4 183.8,260.1 184.2,257.6 184.6,260.0 185.0,259.0 185.4,257.6 185.8,259.0 186.2,258.0 186.7,260.0 187.1,258.0 187.5,259.0 187.9,257.9 188.3,258.3 188.8,256.5 189.2,259.2 189.6,256.6 190.0,257.5 190.4,257.7 190.8,256.8 191.2,257.7 191.6,256.1 192.0,258.2 192.4,256.3 192.8,257.8 193.2,256.6 193.6,257.7 194.0,255.3 194.4,257.8 194.8,256.3 195.2,257.4 195.6,255.3 196.0,256.9 196.4,254.9 196.8,257.0 197.2,255.1 197.6,256.8 198.0,256.0 201.0,241.0 201.3,238.3 201.7,239.7 202.1,236.3 202.4,236.0 204.4,245.0 204.8,246.9 205.2,247.4 205.6,249.9 206.0,250.3 206.4,254.1 206.8,253.9 207.2,256.7 207.6,256.6 208.0,259.0 208.4,259.8 208.8,258.2 209.2,260.9 209.6,258.5 210.0,260.5 210.4,258.5 210.8,260.6 211.2,259.0 211.6,261.4 212.0,259.3 212.4,262.0 212.8,260.3 213.2,261.9 213.6,260.4 214.0,262.3 214.4,259.9 214.8,262.6 215.2,261.5 215.6,262.6 216.0,262.0 216.4,260.9 216.8,263.4 217.2,261.1 217.6,263.4 218.0,262.0 218.4,263.6 218.8,261.1 219.2,263.2 219.6,260.9 220.0,263.6 220.4,262.0 220.8,263.6 221.2,261.2 221.6,262.8 222.0,261.3 222.4,263.4 222.8,262.1 223.2,263.7 223.6,262.2 224.0,263.5 224.4,261.9 224.8,263.1 225.2,261.7 225.6,263.5 226.0,262.3 226.4,264.2 226.8,262.5 227.2,263.0 227.6,262.0 228.0,264.1 228.4,261.8 228.8,264.1 229.2,262.1 229.6,264.0 230.0,263.0 230.4,262.4 230.8,263.5 231.2,262.1 231.6,263.1 232.0,262.7 232.4,264.1 232.8,262.5 233.2,264.1 233.6,261.7 234.0,263.6 234.4,261.8 234.8,264.1 235.2,261.5 235.6,263.2 236.0,262.5 236.4,263.5 236.8,262.0 237.2,263.3 237.6,262.6 238.0,263.7 238.4,261.3 238.8,263.4 239.2,261.9 239.6,263.4 240.0,262.0 240.4,264.0 240.8,262.1 241.2,263.7 241.6,261.9 242.0,263.5 242.4,261.3 242.8,262.9 243.2,261.4 243.6,263.2 244.0,261.6 244.4,263.8 244.8,261.6 245.2,263.3 245.6,261.3 246.0,262.8 246.4,261.5 246.8,263.2 247.2,261.7 247.6,263.8 248.0,262.5 250.2,240.0 251.6,181.0 253.0,240.0 254.0,262.0 254.4,260.6 254.8,262.6 255.2,260.8 255.6,261.7 256.0,261.0 256.4,259.9 256.8,260.9 257.2,259.6 257.6,261.2 258.0,259.2 258.4,260.5 258.8,258.2 259.2,259.2 259.6,257.7 260.0,258.0 260.4,257.7 260.8,256.1 261.2,256.7 261.6,255.1 262.0,255.8 262.4,253.4 262.8,255.6 263.2,252.9 263.6,254.1 264.0,251.1 264.4,252.0 264.8,253.1 265.2,252.8 265.6,254.1 266.0,253.8 266.4,255.8 266.8,254.7 267.2,256.5 267.6,255.2 268.0,257.0 268.4,257.8 268.8,256.4 269.2,258.9 269.6,257.5 270.0,259.8 270.4,258.2 270.8,260.4 271.2,258.0 271.6,260.5 272.0,260.0 272.4,259.0 272.8,261.6 273.2,259.1 273.6,261.6 274.0,259.2 274.4,262.0 274.8,259.5 275.2,262.3 275.6,260.4 276.0,261.0 276.4,261.8 276.8,259.6 277.2,261.2 277.6,259.7 278.0,260.6 278.4,258.7 278.8,260.6 279.2,259.0 279.6,261.0 280.0,259.1 280.4,260.8 280.8,258.9 281.2,259.2 281.6,258.3 282.0,259.4 282.4,257.2 282.8,259.8 283.2,257.1 283.6,258.9 284.0,258.0 284.4,257.2 284.8,258.6 285.2,256.9 285.6,258.9 286.0,257.8 286.4,259.4 286.8,258.1 287.2,259.1 287.6,257.2 288.0,258.9 288.4,258.4 288.8,259.2 289.2,258.4 289.6,259.7 290.0,259.0 290.4,258.4 290.8,259.5 291.2,258.3 291.6,259.2 292.0,257.6 292.4,259.1 292.8,257.8 293.2,259.5 293.6,258.0 294.0,258.5 294.4,256.8 294.8,258.8 295.2,256.8 295.6,258.2 296.0,256.9 296.4,259.0 296.8,257.0 297.2,258.7 297.6,256.5 298.0,258.1 298.4,255.8 298.8,257.9 299.2,256.4 299.6,258.1 300.0,257.0 300.4,256.3 300.8,257.9 301.2,255.5 301.6,257.3 301.9,255.3 302.3,257.5 302.7,254.3 303.1,257.0 303.5,254.7 303.9,256.0 304.3,254.3 304.7,255.2 305.1,254.5 305.4,256.2 305.8,254.2 306.2,255.7 306.6,253.1 307.0,254.0 309.6,240.0 311.5,89.0 313.6,240.0 314.5,255.0 314.9,257.1 315.2,256.2 315.6,257.8 316.0,258.0 316.4,256.9 316.8,258.3 317.2,258.0 317.6,259.0 318.0,258.0 318.4,258.9 318.8,257.5 319.2,259.0 319.6,257.3 320.0,259.9 320.4,258.7 320.8,260.4 321.2,258.6 321.6,260.0 322.0,258.4 322.4,259.7 322.8,258.6 323.2,259.8 323.6,259.2 324.0,261.1 324.4,258.5 324.8,260.7 325.2,258.9 325.6,261.4 326.0,259.8 326.4,261.0 326.8,260.0 327.2,260.7 327.6,260.2 328.0,261.0 328.4,260.4 328.8,261.2 329.2,260.2 329.6,261.9 330.0,261.0 330.4,259.7 330.8,262.4 331.2,260.0 331.6,261.9 332.0,259.7 332.4,261.5 332.8,260.9 333.2,262.5 333.6,260.2 334.0,261.7 334.4,260.6 334.8,261.9 335.2,260.6 335.6,262.1 336.0,260.7 336.4,262.6 336.8,260.2 337.2,262.4 337.6,260.7 338.0,262.0 338.4,260.3 338.8,263.0 339.2,261.1 339.6,262.7 340.0,260.5 340.4,262.7 340.8,261.5 341.2,262.6 341.6,261.3 342.0,262.2 342.4,260.8 342.8,262.8 343.2,260.8 343.6,263.0 344.0,260.8 344.4,262.7 344.8,261.7 345.2,263.1 345.6,260.7 346.0,262.0 346.4,263.1 346.8,260.7 347.2,261.7 347.7,260.9 348.1,261.5 348.5,260.0 348.9,261.7 349.3,260.3 349.8,261.9 350.2,258.9 350.6,261.5 351.0,260.0 351.4,258.5 351.7,259.1 352.1,257.4 352.5,258.4 352.9,255.3 353.2,256.2 353.6,255.0 354.0,254.5 354.4,257.6 354.8,256.8 355.2,259.0 355.6,258.0 356.0,260.0 356.4,260.6 356.8,258.6 357.2,259.8 357.7,258.2 358.1,259.7 358.5,257.6 358.9,259.3 359.3,258.1 359.8,259.4 360.2,257.7 360.6,259.0 361.0,258.0 361.4,256.9 361.8,258.9 362.2,257.6 362.7,260.1 363.1,258.0 363.5,260.3 363.9,259.0 364.3,260.6 364.8,259.5 365.2,261.0 365.6,260.3 366.0,261.0 366.4,261.8 366.8,260.7 367.2,261.9 367.6,260.3 368.0,261.8 368.4,260.9 368.8,262.3 369.2,260.1 369.6,261.9 370.0,260.5 370.4,262.6 370.8,260.3 371.2,262.7 371.6,261.1 372.0,262.2 372.4,260.5 372.8,262.4 373.2,261.7 373.6,263.3 374.0,262.0 374.4,261.6 374.8,262.6 375.2,261.4 375.6,262.5 376.0,260.9 376.5,262.6 376.9,261.3 377.3,262.7 377.7,260.7 378.1,262.2 378.5,261.1 378.9,262.3 379.3,261.6 379.7,263.0 380.1,261.3 380.5,262.2 381.0,261.1 381.4,263.4 381.8,261.0 382.2,262.8 382.6,260.8 383.0,262.0 383.6,250.0 386.3,160.0 388.8,250.0 389.5,261.0 389.9,262.5 390.3,260.8 390.7,261.8 391.1,259.9 391.5,262.9 392.0,261.1 392.4,262.7 392.8,260.4 393.2,262.8 393.6,260.8 394.0,262.0 394.4,262.9 394.8,261.5 395.2,262.4 395.6,261.8 396.0,263.0 396.4,261.7 396.8,263.0 397.2,261.3 397.6,262.7 398.0,260.5 398.4,262.7 398.8,261.2 399.2,262.7 399.6,261.6 400.0,262.5 400.4,261.1 400.8,263.3 401.2,261.7 401.6,263.4 402.0,260.9 402.4,262.2 402.8,260.9 403.2,262.7 403.6,261.2 404.0,262.3 404.4,261.2 404.8,262.9 405.2,260.8 405.6,262.9 406.0,260.9 406.4,263.1 406.8,261.6 407.2,262.2 407.6,261.2 408.0,262.3 408.4,261.7 408.8,262.6 409.2,261.1 409.6,263.0 410.0,262.0 410.4,261.1 410.8,263.7 411.2,262.1 411.6,263.4 412.0,262.3 412.4,263.8 412.8,262.1 413.2,263.3 413.6,262.5 414.0,264.2 414.4,262.5 414.8,264.9 415.2,262.9 415.6,264.3 416.0,262.4 416.4,264.9 416.8,263.7 417.2,265.4 417.6,263.6 418.0,265.8 418.4,263.5 418.8,265.9 419.2,263.4 419.6,265.7 420.0,265.0 420.4,263.5 420.8,265.2 421.2,264.4 421.6,266.3 422.0,264.8 422.4,266.1 422.8,263.5 423.2,266.1 423.6,263.7 424.0,265.3 424.4,264.1 424.8,266.0 425.2,264.3 425.6,265.7 426.0,263.8 426.4,265.4 426.8,264.8 427.2,266.0 427.6,263.5 428.0,266.3 428.4,263.9 428.8,265.5 429.2,263.6 429.6,265.2 430.0,264.5 430.4,266.2 430.8,263.6 431.2,265.7 431.6,263.6 432.0,265.3 432.4,264.0 432.8,265.2 433.2,264.5 433.6,265.4 434.0,264.8 434.4,265.7 434.8,264.2 435.2,265.5 435.6,264.0 436.0,265.0 436.4,265.2 436.8,264.2 437.2,265.9 437.6,264.4 438.0,266.5 438.4,264.8 438.8,265.9 439.2,264.4 439.6,265.8 440.0,263.7 440.4,266.2 440.8,264.4 441.1,266.0 441.5,264.6 441.9,266.7 442.3,264.1 442.7,266.4 443.1,265.0 443.5,266.3 443.9,265.1 444.3,266.1 444.7,265.3 445.1,266.6 445.5,264.0 445.9,266.5 446.3,264.6 446.7,266.1 447.1,264.8 447.5,266.4 447.9,264.9 448.3,266.2 448.7,265.2 449.1,266.9 449.5,264.3 449.9,267.0 450.2,264.8 450.6,266.0 451.0,265.2 451.4,267.1 451.8,264.4 452.2,266.7 452.6,265.0 453.0,267.0 453.4,265.4 453.8,267.0 454.2,265.3 454.6,267.3 455.0,266.0 457.5,250.0 459.0,240.0 460.5,250.0 461.0,266.0 461.4,265.3 461.8,267.1 462.2,265.2 462.6,267.0 463.0,265.4 463.4,267.6 463.8,265.0 464.2,266.9 464.6,265.4 464.9,267.6 465.3,265.1 465.7,267.3 466.1,264.9 466.5,266.7 466.9,265.4 467.3,267.4 467.7,265.7 468.1,267.9 468.5,265.0 468.9,267.2 469.3,265.6 469.7,267.8 470.1,265.5 470.5,267.3 470.9,265.4 471.3,267.3 471.7,266.4 472.1,267.8 472.4,265.7 472.8,267.5 473.2,266.0 473.6,268.3 474.0,265.6 474.4,267.6 474.8,265.5 475.2,267.9 475.6,266.3 476.0,267.0 476.4,266.9 476.8,263.5 477.2,264.9 477.7,261.3 478.1,262.2 478.5,260.0 479.6,252.0 481.0,260.0 481.6,267.0 482.0,266.3 482.4,267.1 482.8,266.1 483.2,267.2 483.6,265.4 484.0,267.4 484.4,265.8 484.8,267.9 485.2,266.3 485.6,268.0 486.0,266.1 486.4,266.9 486.8,265.6 487.2,267.2 487.6,265.1 488.0,267.2 488.4,266.2 488.8,266.6 489.2,266.2 489.6,267.2 490.0,265.2 490.4,266.5 490.8,265.7 491.2,267.0 491.6,264.8 492.0,267.6 492.4,264.8 492.8,267.1 493.2,265.1 493.6,266.5 494.0,266.0 494.4,265.1 494.8,266.5 495.2,265.6 495.6,267.5 496.0,265.3 496.4,267.4 496.8,265.5 497.2,266.9 497.6,265.6 498.0,267.4 498.4,266.0 498.8,267.9 499.2,265.1 499.6,267.0 500.0,266.2 500.4,268.0 500.8,265.7 501.2,267.3 501.6,265.9 502.0,267.4 502.4,265.7 502.8,268.0 503.2,266.2 503.6,267.5 504.0,266.5 504.4,268.0 504.8,266.6 505.2,267.7 505.6,266.9 506.0,267.4 506.4,268.5 506.8,266.0 507.2,268.7 507.6,266.4 508.0,268.6 508.4,267.1 508.8,267.8 509.2,266.3 509.6,267.6 510.0,267.1 510.4,268.6 510.8,267.0 511.2,267.8 511.6,266.7 512.0,268.7 512.4,267.2 512.8,268.7 513.2,266.8 513.6,268.3 514.0,266.6 514.4,267.7 514.8,266.0 515.2,267.8 515.6,266.2 516.0,268.7 516.4,266.6 516.8,268.8 517.2,267.2 517.6,267.7 518.0,266.6 518.4,267.7 518.8,266.2 519.2,268.3 519.6,266.2 520.0,267.9 520.4,267.2 520.8,268.8 521.2,267.0 521.6,268.1 522.0,267.1 522.4,268.3 522.8,266.6 523.2,267.8 523.6,267.2 524.0,267.4"/><polyline points="47.0,229.0 47.4,227.9 47.8,231.0 48.2,229.7 48.6,230.5 49.0,229.2 49.4,231.9 49.8,230.0 50.2,232.0 50.6,230.7 51.0,233.0 51.4,231.4 51.8,233.0 52.2,232.2 52.6,233.9 53.0,232.4 53.4,235.3 53.8,232.7 54.2,235.3 54.6,233.9 55.0,235.0 55.4,235.7 55.8,235.1 56.2,235.7 56.6,234.9 57.0,236.4 57.4,235.3 57.8,237.5 58.2,235.4 58.6,237.3 59.0,236.1 59.4,236.9 59.8,236.3 60.2,237.4 60.6,236.4 61.0,238.9 61.4,236.5 61.8,238.1 62.2,236.5 62.6,239.3 63.0,237.1 63.4,239.7 63.8,237.3 64.2,239.9 64.6,238.2 65.0,239.0 65.4,239.6 65.8,235.8 66.1,236.7 66.5,234.3 66.9,235.7 67.2,233.0 67.6,233.7 68.0,232.0" stroke-width="1.3"/><polyline points="73.0,228.0 73.4,227.6 73.8,230.1 74.1,228.3 74.5,230.8 74.9,229.2 75.2,231.6 75.6,229.3 76.0,231.0" stroke-width="1.3"/><polyline points="81.0,234.0 81.4,235.5 81.8,234.6 82.1,237.6 82.5,235.9 82.9,238.6 83.2,238.1 83.6,239.8 84.0,240.0 84.4,238.2 84.8,239.0 85.2,236.6 85.7,237.8 86.1,235.3 86.5,236.6 86.9,233.9 87.3,235.8 87.8,233.2 88.2,234.2 88.6,231.6 89.0,232.0" stroke-width="1.3"/><polyline points="93.0,207.0 93.4,209.3 93.8,209.2 94.1,211.6 94.5,211.7 94.9,215.3 95.2,214.3 95.6,216.9 96.0,218.0" stroke-width="1.3"/><polyline points="99.0,234.0 99.4,233.1 99.8,235.9 100.2,233.8 100.6,236.0 101.0,236.0" stroke-width="1.3"/><polyline points="105.5,238.0 105.9,237.0 106.3,238.5 106.7,237.3 107.1,239.0 107.4,238.1 107.8,240.0 108.2,238.5 108.6,239.7 109.0,239.0 109.4,237.9 109.8,239.9 110.2,239.2 110.6,241.1 111.0,239.3 111.4,241.3 111.8,240.2 112.2,241.2 112.6,240.4 113.0,242.1 113.4,240.9 113.8,242.8 114.2,241.4 114.6,242.9 115.0,242.0 115.4,242.2 115.8,243.3 116.2,242.0 116.7,244.0 117.1,243.7 117.5,245.6 117.9,244.2 118.3,245.5 118.8,244.3 119.2,246.5 119.6,246.4 120.0,247.0 120.4,248.1 120.8,247.0 121.1,249.7 121.5,248.7 121.9,250.1 122.2,249.8 122.6,251.3 123.0,251.0 123.4,249.9 123.8,252.3 124.2,249.8 124.6,252.4 125.0,250.0 125.4,252.5 125.8,250.6 126.2,252.0 126.7,250.5 127.1,252.2 127.5,251.4 127.9,252.5 128.3,250.5 128.7,252.2 129.1,251.0 129.5,252.0 129.9,252.5 130.3,250.9 130.7,251.9 131.1,250.0 131.5,251.8 131.9,250.2 132.2,251.7 132.6,250.7 133.0,251.6 133.4,250.2 133.8,250.7 134.2,250.1 134.6,250.5 135.0,250.0 135.4,249.5 135.8,250.7 136.2,248.6 136.6,250.8 137.0,247.7 137.4,250.5 137.8,248.3 138.2,249.4 138.6,248.0 139.0,249.2 139.4,247.1 139.8,249.2 140.2,246.6 140.6,248.1 141.0,247.4 141.4,247.0 141.8,248.9 142.2,248.1 142.7,248.8 143.1,248.2 143.5,249.5 143.9,248.4 144.3,250.3 144.8,249.8 145.2,250.8 145.6,250.2 146.0,251.0 146.4,251.7 146.8,250.7 147.2,252.7 147.6,251.6 148.0,253.5 148.4,252.4 148.8,254.5 149.2,251.9 149.6,254.8 150.0,254.0 150.4,253.4 150.8,255.1 151.2,253.5 151.6,254.8 152.0,254.0 152.4,255.7 152.8,254.5 153.2,255.3 153.6,254.0 154.0,256.0 154.4,254.6 154.8,257.0 155.2,254.8 155.6,256.4 156.0,256.0 156.4,254.3 156.8,256.3 157.2,255.2 157.6,256.3 158.0,255.0 158.4,254.2 158.8,254.6 159.1,252.2 159.5,254.1 159.9,252.3 160.2,252.8 160.6,250.8 161.0,251.0" stroke-width="1.3"/><polyline points="166.0,256.0 166.4,257.3 166.8,256.6 167.2,258.4 167.6,257.8 168.0,258.5 168.4,259.1 168.8,258.0 169.2,260.1 169.6,258.5 169.9,259.9 170.3,258.4 170.7,259.8 171.1,258.3 171.5,259.8 171.9,257.9 172.3,259.8 172.7,258.9 173.1,259.5 173.4,259.0 173.8,260.6 174.2,258.4 174.6,260.9 175.0,259.5 175.4,258.4 175.8,259.6 176.2,258.4 176.6,260.6 177.0,258.3 177.4,260.2 177.8,258.7 178.2,260.1 178.6,258.1 179.0,259.8 179.4,258.4 179.8,260.1 180.2,257.8 180.6,260.5 181.0,257.8 181.4,260.5 181.8,258.6 182.2,259.6 182.6,258.3 183.0,259.6 183.4,258.4 183.8,260.1 184.2,257.6 184.6,260.0 185.0,259.0 185.4,257.6 185.8,259.0 186.2,258.0 186.7,260.0 187.1,258.0 187.5,259.0 187.9,257.9 188.3,258.3 188.8,256.5 189.2,259.2 189.6,256.6 190.0,257.5 190.4,257.7 190.8,256.8 191.2,257.7 191.6,256.1 192.0,258.2 192.4,256.3 192.8,257.8 193.2,256.6 193.6,257.7 194.0,255.3 194.4,257.8 194.8,256.3 195.2,257.4 195.6,255.3 196.0,256.9 196.4,254.9 196.8,257.0 197.2,255.1 197.6,256.8 198.0,256.0" stroke-width="1.3"/><polyline points="201.0,241.0 201.3,238.3 201.7,239.7 202.1,236.3 202.4,236.0" stroke-width="1.3"/><polyline points="204.4,245.0 204.8,246.9 205.2,247.4 205.6,249.9 206.0,250.3 206.4,254.1 206.8,253.9 207.2,256.7 207.6,256.6 208.0,259.0 208.4,259.8 208.8,258.2 209.2,260.9 209.6,258.5 210.0,260.5 210.4,258.5 210.8,260.6 211.2,259.0 211.6,261.4 212.0,259.3 212.4,262.0 212.8,260.3 213.2,261.9 213.6,260.4 214.0,262.3 214.4,259.9 214.8,262.6 215.2,261.5 215.6,262.6 216.0,262.0 216.4,260.9 216.8,263.4 217.2,261.1 217.6,263.4 218.0,262.0 218.4,263.6 218.8,261.1 219.2,263.2 219.6,260.9 220.0,263.6 220.4,262.0 220.8,263.6 221.2,261.2 221.6,262.8 222.0,261.3 222.4,263.4 222.8,262.1 223.2,263.7 223.6,262.2 224.0,263.5 224.4,261.9 224.8,263.1 225.2,261.7 225.6,263.5 226.0,262.3 226.4,264.2 226.8,262.5 227.2,263.0 227.6,262.0 228.0,264.1 228.4,261.8 228.8,264.1 229.2,262.1 229.6,264.0 230.0,263.0 230.4,262.4 230.8,263.5 231.2,262.1 231.6,263.1 232.0,262.7 232.4,264.1 232.8,262.5 233.2,264.1 233.6,261.7 234.0,263.6 234.4,261.8 234.8,264.1 235.2,261.5 235.6,263.2 236.0,262.5 236.4,263.5 236.8,262.0 237.2,263.3 237.6,262.6 238.0,263.7 238.4,261.3 238.8,263.4 239.2,261.9 239.6,263.4 240.0,262.0 240.4,264.0 240.8,262.1 241.2,263.7 241.6,261.9 242.0,263.5 242.4,261.3 242.8,262.9 243.2,261.4 243.6,263.2 244.0,261.6 244.4,263.8 244.8,261.6 245.2,263.3 245.6,261.3 246.0,262.8 246.4,261.5 246.8,263.2 247.2,261.7 247.6,263.8 248.0,262.5" stroke-width="1.3"/><polyline points="254.0,262.0 254.4,260.6 254.8,262.6 255.2,260.8 255.6,261.7 256.0,261.0 256.4,259.9 256.8,260.9 257.2,259.6 257.6,261.2 258.0,259.2 258.4,260.5 258.8,258.2 259.2,259.2 259.6,257.7 260.0,258.0 260.4,257.7 260.8,256.1 261.2,256.7 261.6,255.1 262.0,255.8 262.4,253.4 262.8,255.6 263.2,252.9 263.6,254.1 264.0,251.1 264.4,252.0 264.8,253.1 265.2,252.8 265.6,254.1 266.0,253.8 266.4,255.8 266.8,254.7 267.2,256.5 267.6,255.2 268.0,257.0 268.4,257.8 268.8,256.4 269.2,258.9 269.6,257.5 270.0,259.8 270.4,258.2 270.8,260.4 271.2,258.0 271.6,260.5 272.0,260.0 272.4,259.0 272.8,261.6 273.2,259.1 273.6,261.6 274.0,259.2 274.4,262.0 274.8,259.5 275.2,262.3 275.6,260.4 276.0,261.0 276.4,261.8 276.8,259.6 277.2,261.2 277.6,259.7 278.0,260.6 278.4,258.7 278.8,260.6 279.2,259.0 279.6,261.0 280.0,259.1 280.4,260.8 280.8,258.9 281.2,259.2 281.6,258.3 282.0,259.4 282.4,257.2 282.8,259.8 283.2,257.1 283.6,258.9 284.0,258.0 284.4,257.2 284.8,258.6 285.2,256.9 285.6,258.9 286.0,257.8 286.4,259.4 286.8,258.1 287.2,259.1 287.6,257.2 288.0,258.9 288.4,258.4 288.8,259.2 289.2,258.4 289.6,259.7 290.0,259.0 290.4,258.4 290.8,259.5 291.2,258.3 291.6,259.2 292.0,257.6 292.4,259.1 292.8,257.8 293.2,259.5 293.6,258.0 294.0,258.5 294.4,256.8 294.8,258.8 295.2,256.8 295.6,258.2 296.0,256.9 296.4,259.0 296.8,257.0 297.2,258.7 297.6,256.5 298.0,258.1 298.4,255.8 298.8,257.9 299.2,256.4 299.6,258.1 300.0,257.0 300.4,256.3 300.8,257.9 301.2,255.5 301.6,257.3 301.9,255.3 302.3,257.5 302.7,254.3 303.1,257.0 303.5,254.7 303.9,256.0 304.3,254.3 304.7,255.2 305.1,254.5 305.4,256.2 305.8,254.2 306.2,255.7 306.6,253.1 307.0,254.0" stroke-width="1.3"/><polyline points="314.5,255.0 314.9,257.1 315.2,256.2 315.6,257.8 316.0,258.0 316.4,256.9 316.8,258.3 317.2,258.0 317.6,259.0 318.0,258.0 318.4,258.9 318.8,257.5 319.2,259.0 319.6,257.3 320.0,259.9 320.4,258.7 320.8,260.4 321.2,258.6 321.6,260.0 322.0,258.4 322.4,259.7 322.8,258.6 323.2,259.8 323.6,259.2 324.0,261.1 324.4,258.5 324.8,260.7 325.2,258.9 325.6,261.4 326.0,259.8 326.4,261.0 326.8,260.0 327.2,260.7 327.6,260.2 328.0,261.0 328.4,260.4 328.8,261.2 329.2,260.2 329.6,261.9 330.0,261.0 330.4,259.7 330.8,262.4 331.2,260.0 331.6,261.9 332.0,259.7 332.4,261.5 332.8,260.9 333.2,262.5 333.6,260.2 334.0,261.7 334.4,260.6 334.8,261.9 335.2,260.6 335.6,262.1 336.0,260.7 336.4,262.6 336.8,260.2 337.2,262.4 337.6,260.7 338.0,262.0 338.4,260.3 338.8,263.0 339.2,261.1 339.6,262.7 340.0,260.5 340.4,262.7 340.8,261.5 341.2,262.6 341.6,261.3 342.0,262.2 342.4,260.8 342.8,262.8 343.2,260.8 343.6,263.0 344.0,260.8 344.4,262.7 344.8,261.7 345.2,263.1 345.6,260.7 346.0,262.0 346.4,263.1 346.8,260.7 347.2,261.7 347.7,260.9 348.1,261.5 348.5,260.0 348.9,261.7 349.3,260.3 349.8,261.9 350.2,258.9 350.6,261.5 351.0,260.0 351.4,258.5 351.7,259.1 352.1,257.4 352.5,258.4 352.9,255.3 353.2,256.2 353.6,255.0 354.0,254.5 354.4,257.6 354.8,256.8 355.2,259.0 355.6,258.0 356.0,260.0 356.4,260.6 356.8,258.6 357.2,259.8 357.7,258.2 358.1,259.7 358.5,257.6 358.9,259.3 359.3,258.1 359.8,259.4 360.2,257.7 360.6,259.0 361.0,258.0 361.4,256.9 361.8,258.9 362.2,257.6 362.7,260.1 363.1,258.0 363.5,260.3 363.9,259.0 364.3,260.6 364.8,259.5 365.2,261.0 365.6,260.3 366.0,261.0 366.4,261.8 366.8,260.7 367.2,261.9 367.6,260.3 368.0,261.8 368.4,260.9 368.8,262.3 369.2,260.1 369.6,261.9 370.0,260.5 370.4,262.6 370.8,260.3 371.2,262.7 371.6,261.1 372.0,262.2 372.4,260.5 372.8,262.4 373.2,261.7 373.6,263.3 374.0,262.0 374.4,261.6 374.8,262.6 375.2,261.4 375.6,262.5 376.0,260.9 376.5,262.6 376.9,261.3 377.3,262.7 377.7,260.7 378.1,262.2 378.5,261.1 378.9,262.3 379.3,261.6 379.7,263.0 380.1,261.3 380.5,262.2 381.0,261.1 381.4,263.4 381.8,261.0 382.2,262.8 382.6,260.8 383.0,262.0" stroke-width="1.3"/><polyline points="389.5,261.0 389.9,262.5 390.3,260.8 390.7,261.8 391.1,259.9 391.5,262.9 392.0,261.1 392.4,262.7 392.8,260.4 393.2,262.8 393.6,260.8 394.0,262.0 394.4,262.9 394.8,261.5 395.2,262.4 395.6,261.8 396.0,263.0 396.4,261.7 396.8,263.0 397.2,261.3 397.6,262.7 398.0,260.5 398.4,262.7 398.8,261.2 399.2,262.7 399.6,261.6 400.0,262.5 400.4,261.1 400.8,263.3 401.2,261.7 401.6,263.4 402.0,260.9 402.4,262.2 402.8,260.9 403.2,262.7 403.6,261.2 404.0,262.3 404.4,261.2 404.8,262.9 405.2,260.8 405.6,262.9 406.0,260.9 406.4,263.1 406.8,261.6 407.2,262.2 407.6,261.2 408.0,262.3 408.4,261.7 408.8,262.6 409.2,261.1 409.6,263.0 410.0,262.0 410.4,261.1 410.8,263.7 411.2,262.1 411.6,263.4 412.0,262.3 412.4,263.8 412.8,262.1 413.2,263.3 413.6,262.5 414.0,264.2 414.4,262.5 414.8,264.9 415.2,262.9 415.6,264.3 416.0,262.4 416.4,264.9 416.8,263.7 417.2,265.4 417.6,263.6 418.0,265.8 418.4,263.5 418.8,265.9 419.2,263.4 419.6,265.7 420.0,265.0 420.4,263.5 420.8,265.2 421.2,264.4 421.6,266.3 422.0,264.8 422.4,266.1 422.8,263.5 423.2,266.1 423.6,263.7 424.0,265.3 424.4,264.1 424.8,266.0 425.2,264.3 425.6,265.7 426.0,263.8 426.4,265.4 426.8,264.8 427.2,266.0 427.6,263.5 428.0,266.3 428.4,263.9 428.8,265.5 429.2,263.6 429.6,265.2 430.0,264.5 430.4,266.2 430.8,263.6 431.2,265.7 431.6,263.6 432.0,265.3 432.4,264.0 432.8,265.2 433.2,264.5 433.6,265.4 434.0,264.8 434.4,265.7 434.8,264.2 435.2,265.5 435.6,264.0 436.0,265.0 436.4,265.2 436.8,264.2 437.2,265.9 437.6,264.4 438.0,266.5 438.4,264.8 438.8,265.9 439.2,264.4 439.6,265.8 440.0,263.7 440.4,266.2 440.8,264.4 441.1,266.0 441.5,264.6 441.9,266.7 442.3,264.1 442.7,266.4 443.1,265.0 443.5,266.3 443.9,265.1 444.3,266.1 444.7,265.3 445.1,266.6 445.5,264.0 445.9,266.5 446.3,264.6 446.7,266.1 447.1,264.8 447.5,266.4 447.9,264.9 448.3,266.2 448.7,265.2 449.1,266.9 449.5,264.3 449.9,267.0 450.2,264.8 450.6,266.0 451.0,265.2 451.4,267.1 451.8,264.4 452.2,266.7 452.6,265.0 453.0,267.0 453.4,265.4 453.8,267.0 454.2,265.3 454.6,267.3 455.0,266.0" stroke-width="1.3"/><polyline points="461.0,266.0 461.4,265.3 461.8,267.1 462.2,265.2 462.6,267.0 463.0,265.4 463.4,267.6 463.8,265.0 464.2,266.9 464.6,265.4 464.9,267.6 465.3,265.1 465.7,267.3 466.1,264.9 466.5,266.7 466.9,265.4 467.3,267.4 467.7,265.7 468.1,267.9 468.5,265.0 468.9,267.2 469.3,265.6 469.7,267.8 470.1,265.5 470.5,267.3 470.9,265.4 471.3,267.3 471.7,266.4 472.1,267.8 472.4,265.7 472.8,267.5 473.2,266.0 473.6,268.3 474.0,265.6 474.4,267.6 474.8,265.5 475.2,267.9 475.6,266.3 476.0,267.0 476.4,266.9 476.8,263.5 477.2,264.9 477.7,261.3 478.1,262.2 478.5,260.0" stroke-width="1.3"/><polyline points="481.6,267.0 482.0,266.3 482.4,267.1 482.8,266.1 483.2,267.2 483.6,265.4 484.0,267.4 484.4,265.8 484.8,267.9 485.2,266.3 485.6,268.0 486.0,266.1 486.4,266.9 486.8,265.6 487.2,267.2 487.6,265.1 488.0,267.2 488.4,266.2 488.8,266.6 489.2,266.2 489.6,267.2 490.0,265.2 490.4,266.5 490.8,265.7 491.2,267.0 491.6,264.8 492.0,267.6 492.4,264.8 492.8,267.1 493.2,265.1 493.6,266.5 494.0,266.0 494.4,265.1 494.8,266.5 495.2,265.6 495.6,267.5 496.0,265.3 496.4,267.4 496.8,265.5 497.2,266.9 497.6,265.6 498.0,267.4 498.4,266.0 498.8,267.9 499.2,265.1 499.6,267.0 500.0,266.2 500.4,268.0 500.8,265.7 501.2,267.3 501.6,265.9 502.0,267.4 502.4,265.7 502.8,268.0 503.2,266.2 503.6,267.5 504.0,266.5 504.4,268.0 504.8,266.6 505.2,267.7 505.6,266.9 506.0,267.4 506.4,268.5 506.8,266.0 507.2,268.7 507.6,266.4 508.0,268.6 508.4,267.1 508.8,267.8 509.2,266.3 509.6,267.6 510.0,267.1 510.4,268.6 510.8,267.0 511.2,267.8 511.6,266.7 512.0,268.7 512.4,267.2 512.8,268.7 513.2,266.8 513.6,268.3 514.0,266.6 514.4,267.7 514.8,266.0 515.2,267.8 515.6,266.2 516.0,268.7 516.4,266.6 516.8,268.8 517.2,267.2 517.6,267.7 518.0,266.6 518.4,267.7 518.8,266.2 519.2,268.3 519.6,266.2 520.0,267.9 520.4,267.2 520.8,268.8 521.2,267.0 521.6,268.1 522.0,267.1 522.4,268.3 522.8,266.6 523.2,267.8 523.6,267.2 524.0,267.4" stroke-width="1.3"/></g><g fill="none" stroke="#0aeaf2" stroke-width="0.9" stroke-linejoin="round"><polyline points="47.0,191.0 47.4,190.8 47.8,192.6 48.2,190.3 48.6,192.1 49.0,190.9 49.4,192.7 49.8,191.0 50.2,193.4 50.6,192.1 51.0,192.7 51.4,191.4 51.8,193.5 52.2,191.8 52.6,193.3 53.0,192.5 53.4,194.5 53.8,193.1 54.2,195.1 54.6,192.5 55.0,194.0 55.4,194.2 55.8,193.8 56.2,194.9 56.7,192.6 57.1,194.7 57.5,193.6 57.9,194.7 58.3,193.8 58.8,194.4 59.2,193.3 59.6,194.8 60.0,194.0 60.4,193.7 60.8,194.8 61.2,194.0 61.6,195.4 62.0,194.2 62.4,195.1 62.8,193.8 63.2,196.1 63.6,194.4 64.0,195.9 64.4,194.2 64.8,197.2 65.2,195.7 65.6,196.7 66.0,196.3 66.4,193.9 66.8,194.8 67.2,191.0 67.7,191.9 68.1,188.6 68.5,189.6 68.9,186.7 69.3,186.0 70.7,176.7 72.3,186.0 73.8,193.0 74.2,193.4 74.6,190.7 75.0,192.8 75.4,191.0 75.8,189.8 76.2,191.1 76.7,189.6 77.1,189.9 77.5,189.0 77.9,188.8 78.3,191.7 78.7,191.6 79.1,193.9 79.5,194.0 79.9,191.3 80.3,191.9 80.8,188.5 81.2,188.3 81.6,186.0 84.3,165.4 85.7,178.8 87.8,167.5 89.8,137.6 91.3,123.0 92.9,141.7 95.0,166.4 97.0,178.8 97.4,178.7 97.8,181.6 98.1,180.3 98.5,182.6 98.9,181.9 99.2,183.6 99.6,184.0 100.0,185.0 100.4,186.6 100.7,184.5 101.1,187.5 101.5,186.3 101.8,187.9 102.2,188.0 102.6,187.0 103.0,189.2 103.4,186.4 103.8,188.4 104.1,186.1 104.5,187.7 104.9,186.3 105.3,187.0 106.8,165.0 108.2,138.5 109.6,165.0 111.0,189.0 111.4,191.3 111.8,189.7 112.2,192.3 112.7,191.8 113.1,194.1 113.5,194.0 113.9,192.8 114.3,194.6 114.7,193.5 115.1,196.2 115.5,193.8 116.0,196.5 116.4,194.4 116.8,196.7 117.2,195.2 117.6,196.3 118.0,197.3 118.4,196.7 118.8,198.6 119.2,196.6 119.7,198.3 120.1,197.3 120.5,199.3 120.9,198.1 121.3,199.7 121.7,199.4 122.1,199.3 122.5,202.0 122.9,200.9 123.3,203.5 123.8,203.3 124.2,204.8 124.6,204.8 125.0,206.0 125.4,207.0 125.8,204.8 126.2,207.4 126.6,205.0 127.0,207.6 127.4,205.9 127.8,207.8 128.2,205.5 128.6,206.9 129.0,206.5 129.4,206.9 129.8,205.6 130.2,207.4 130.6,206.6 131.0,207.0 131.4,207.6 131.8,205.6 132.1,206.1 132.5,205.1 132.9,206.0 133.2,204.4 133.6,204.9 134.0,204.0 134.4,202.0 134.8,203.0 135.2,200.7 135.6,201.2 136.0,199.3 136.4,199.3 136.8,197.0 137.2,197.2 137.6,195.6 138.0,195.0 138.4,197.1 138.8,195.7 139.2,197.7 139.7,197.0 140.1,200.0 140.5,199.3 140.9,200.4 141.3,200.7 141.8,202.9 142.2,202.1 142.6,204.4 143.0,204.0 143.4,203.5 143.8,206.0 144.2,205.2 144.6,207.6 145.0,205.4 145.4,208.0 145.8,207.3 146.2,209.3 146.6,208.1 147.0,210.3 147.4,209.3 147.8,211.4 148.2,210.7 148.6,212.0 149.0,212.0 149.4,210.7 149.8,213.7 150.2,212.0 150.6,214.1 151.0,212.4 151.4,214.6 151.8,212.2 152.2,214.3 152.6,213.3 153.0,214.2 153.4,212.9 153.8,214.6 154.2,213.3 154.6,216.2 155.0,215.0 155.4,214.1 155.8,215.4 156.1,213.7 156.5,216.5 156.9,213.9 157.2,215.8 157.6,214.3 158.0,215.0 158.4,215.7 158.8,214.8 159.2,216.4 159.6,214.7 159.9,216.0 160.3,215.4 160.7,216.8 161.1,215.3 161.5,216.8 161.9,215.5 162.3,217.5 162.7,215.0 163.1,216.6 163.4,216.1 163.8,217.3 164.2,215.3 164.6,218.1 165.0,217.0 165.4,215.0 165.8,214.6 166.2,211.7 166.6,212.7 167.0,210.0 169.0,179.0 170.5,210.0 172.0,218.0 172.4,216.7 172.8,218.9 173.2,217.1 173.6,219.6 174.0,217.9 174.4,220.3 174.8,218.5 175.2,220.2 175.6,218.9 176.0,219.7 176.4,218.1 176.8,220.0 177.2,218.6 177.6,220.8 178.0,220.0 178.4,218.6 178.8,220.3 179.2,218.9 179.6,219.9 180.0,217.9 180.4,220.1 180.8,217.5 181.2,220.1 181.6,218.3 182.0,219.4 182.4,218.1 182.8,218.4 183.2,217.8 183.6,219.2 184.0,216.5 184.4,218.9 184.8,216.8 185.2,218.3 185.6,215.9 186.0,217.0 186.4,217.5 186.8,215.7 187.2,216.9 187.6,215.9 188.0,216.5 188.4,214.4 188.8,216.5 189.2,214.0 189.6,216.0 190.0,214.5 190.4,216.0 190.8,213.3 191.2,214.6 191.6,213.1 192.0,214.3 192.4,213.5 192.8,214.9 193.2,213.2 193.6,213.7 194.0,211.5 194.4,213.5 194.8,212.3 195.2,212.8 195.6,211.7 196.0,212.0 196.4,212.4 196.8,210.1 197.2,211.0 197.6,208.1 198.0,209.5 198.4,205.8 198.8,206.9 199.2,205.1 199.6,205.6 200.0,204.0 202.4,190.0 204.4,210.0 204.8,210.6 205.2,212.8 205.6,212.5 206.0,213.7 206.4,213.0 206.8,215.9 207.2,215.3 207.6,217.9 208.0,218.0 208.4,217.6 208.8,218.6 209.2,217.1 209.6,220.1 210.0,217.3 210.4,219.3 210.8,218.7 211.2,220.3 211.6,218.0 212.0,220.5 212.4,218.7 212.8,221.0 213.2,219.6 213.6,221.1 214.0,219.8 214.4,221.0 214.8,220.5 215.2,221.4 215.6,219.6 216.0,222.0 216.4,220.3 216.8,222.5 217.2,220.3 217.6,222.5 218.0,222.0 218.4,221.5 218.8,222.7 219.2,221.6 219.6,223.6 220.0,221.0 220.4,223.0 220.8,221.9 221.2,223.4 221.6,221.7 222.0,223.6 222.4,222.3 222.8,223.0 223.2,222.4 223.6,223.2 224.0,222.1 224.4,223.3 224.8,222.9 225.2,224.2 225.6,222.7 226.0,224.6 226.4,222.6 226.8,224.8 227.2,223.2 227.6,224.4 228.0,222.4 228.4,224.0 228.8,222.4 229.2,224.3 229.6,222.7 230.0,224.0 230.4,225.5 230.8,222.9 231.2,224.8 231.6,224.0 232.0,225.2 232.4,223.0 232.8,225.0 233.2,223.2 233.6,224.9 234.0,223.3 234.4,224.9 234.8,224.2 235.2,226.2 235.6,223.7 236.0,226.3 236.4,223.7 236.8,226.2 237.2,224.1 237.6,225.6 238.0,224.5 238.4,225.7 238.8,224.3 239.2,226.5 239.6,225.0 240.0,225.6 240.4,225.9 240.8,224.2 241.2,226.9 241.6,224.8 242.0,226.6 242.4,224.4 242.8,226.5 243.2,225.0 243.6,226.4 244.0,225.3 244.4,226.0 244.8,224.8 245.2,226.5 245.6,224.9 246.0,226.1 246.4,225.2 246.8,226.2 247.2,225.6 247.6,226.4 248.0,224.7 248.4,226.6 248.8,225.3 249.2,226.9 249.6,225.5 250.0,226.0 250.4,225.9 250.8,224.6 251.1,226.1 251.5,224.0 251.9,225.5 252.2,223.4 252.6,225.4 253.0,224.0 256.4,185.0 258.4,224.0 258.8,223.2 259.1,224.2 259.5,222.3 259.9,223.3 260.3,221.9 260.6,223.2 261.0,222.0 261.4,220.2 261.8,222.6 262.2,220.3 262.6,221.4 263.0,219.8 263.4,219.8 263.8,218.4 264.2,220.1 264.6,218.0 265.0,218.0 265.4,219.5 265.8,217.3 266.2,219.6 266.7,218.2 267.1,221.0 267.5,219.3 267.9,221.4 268.3,219.5 268.8,222.0 269.2,220.0 269.6,223.0 270.0,222.0 270.4,220.6 270.8,223.1 271.2,221.9 271.6,222.8 272.0,222.0 272.4,223.4 272.8,221.4 273.2,222.9 273.6,221.6 274.0,223.9 274.4,222.3 274.8,223.8 275.2,222.7 275.6,224.3 276.0,223.0 276.4,224.8 276.8,222.1 277.2,224.4 277.6,223.0 278.0,223.6 278.4,225.1 278.8,222.3 279.2,224.1 279.6,222.7 280.0,225.2 280.4,223.0 280.8,225.2 281.2,223.4 281.6,225.6 282.0,222.8 282.4,225.0 282.8,223.2 283.2,225.2 283.6,224.2 284.0,225.2 284.4,224.4 284.8,226.2 285.2,223.4 285.6,225.2 286.0,225.0 286.4,223.8 286.8,225.3 287.2,224.1 287.6,224.7 288.0,223.5 288.4,225.0 288.8,223.4 289.2,223.8 289.6,222.5 290.0,223.2 290.4,221.8 290.8,223.6 291.2,221.1 291.6,222.6 292.0,221.5 292.4,222.7 292.8,221.1 293.2,222.3 293.6,220.7 294.0,221.0 294.4,221.9 294.8,219.5 295.2,221.8 295.6,219.0 296.0,221.2 296.4,219.3 296.8,221.3 297.2,218.7 297.6,220.6 298.0,218.9 298.4,220.0 298.8,219.0 299.2,220.4 299.6,218.7 300.0,220.0 300.4,217.8 300.8,220.0 301.2,217.3 301.6,219.7 302.0,217.8 302.4,218.0 302.8,219.1 303.2,217.6 303.6,219.4 304.0,218.3 304.4,220.1 304.8,218.9 305.2,220.2 305.6,219.5 306.0,221.3 306.4,220.3 306.8,221.8 307.2,220.2 307.6,222.8 308.0,222.0 308.4,221.7 308.8,224.0 309.1,222.8 309.5,224.4 309.9,224.3 310.2,225.5 310.6,224.5 311.0,226.0 311.4,226.9 311.8,223.9 312.2,225.6 312.6,222.9 313.0,224.0 315.2,167.5 317.0,226.0 317.4,226.9 317.8,225.1 318.2,227.2 318.7,225.5 319.1,228.3 319.5,226.4 319.9,227.5 320.3,226.3 320.8,228.4 321.2,227.0 321.6,228.0 322.0,228.0 322.4,227.4 322.8,228.8 323.2,227.5 323.6,229.5 324.0,227.3 324.4,229.4 324.8,227.0 325.2,229.6 325.6,227.6 326.0,229.7 326.4,227.5 326.8,229.6 327.2,227.6 327.6,229.4 328.0,227.8 328.4,229.8 328.8,227.4 329.2,230.1 329.6,227.7 330.0,229.0 330.4,230.2 330.8,227.7 331.2,230.0 331.6,228.4 332.0,229.5 332.4,227.9 332.8,230.3 333.2,228.1 333.6,229.4 334.0,227.7 334.4,229.8 334.8,228.2 335.2,229.2 335.6,228.2 336.0,230.2 336.4,228.3 336.8,229.6 337.2,228.0 337.6,229.2 338.0,228.2 338.4,230.4 338.8,227.9 339.2,229.7 339.6,227.9 340.0,229.0 340.4,230.0 340.8,228.6 341.2,229.6 341.6,227.8 342.0,229.7 342.4,229.0 342.8,230.6 343.2,228.5 343.6,230.0 344.0,228.6 344.4,230.6 344.8,229.1 345.2,230.6 345.6,228.4 346.0,230.9 346.4,229.1 346.8,230.7 347.2,229.3 347.6,230.7 348.0,229.4 348.4,231.1 348.8,228.6 349.2,230.5 349.6,229.5 350.0,230.0 350.4,231.3 350.8,228.6 351.2,230.9 351.6,229.3 352.0,230.7 352.4,228.2 352.8,229.6 353.2,228.2 353.6,230.0 354.0,227.5 354.4,228.9 354.8,227.4 355.2,228.6 355.6,226.7 356.0,228.0 356.4,228.0 356.8,225.2 357.2,226.9 357.6,224.1 358.0,224.8 358.4,223.6 358.8,223.4 359.1,225.2 359.5,225.1 359.9,227.2 360.3,226.1 360.6,228.5 361.0,228.0 361.4,227.6 361.8,229.2 362.2,227.0 362.6,228.7 363.0,227.9 363.5,229.0 363.9,227.5 364.3,228.6 364.7,228.0 365.1,228.7 365.5,227.5 365.9,229.9 366.3,228.1 366.7,228.8 367.1,227.6 367.5,230.0 368.0,227.3 368.4,229.8 368.8,228.3 369.2,230.2 369.6,228.6 370.0,229.0 370.4,230.1 370.8,228.7 371.2,229.7 371.6,228.2 372.0,229.7 372.4,228.6 372.8,229.5 373.2,227.7 373.7,229.8 374.1,228.1 374.5,229.4 374.9,227.9 375.3,229.6 375.7,228.0 376.1,230.4 376.5,227.5 376.9,229.2 377.3,227.8 377.7,230.3 378.1,228.4 378.5,229.7 378.9,228.1 379.3,230.4 379.8,228.3 380.2,230.3 380.6,227.8 381.0,229.4 381.4,227.6 381.8,229.2 382.2,228.7 382.6,230.0 383.0,229.0 383.4,228.7 383.8,229.5 384.2,228.4 384.6,229.4 385.0,227.2 385.4,229.8 385.8,228.1 386.2,228.4 386.6,226.8 387.0,228.0 389.6,188.5 391.5,228.0 391.9,228.1 392.3,227.4 392.7,228.1 393.1,227.5 393.5,227.9 393.9,226.6 394.3,228.7 394.8,226.4 395.2,228.7 395.6,226.3 396.0,228.0 396.4,226.2 396.8,228.6 397.2,226.1 397.6,227.5 398.0,227.0 398.4,226.6 398.8,228.1 399.2,225.6 399.6,227.0 400.0,225.2 400.4,226.9 400.8,225.0 401.2,226.0 401.6,224.9 402.0,226.1 402.4,224.8 402.8,226.4 403.2,224.2 403.6,225.8 404.0,223.5 404.4,225.6 404.8,223.2 405.2,225.3 405.6,223.5 406.0,225.3 406.4,223.3 406.8,224.9 407.2,222.0 407.6,224.5 408.0,223.0 408.4,223.0 408.8,223.8 409.2,222.5 409.6,224.7 410.0,223.6 410.4,225.9 410.8,224.5 411.2,225.8 411.6,224.4 412.0,225.7 412.4,225.0 412.8,227.0 413.2,224.8 413.6,226.5 414.0,225.7 414.4,227.1 414.8,225.8 415.2,227.6 415.6,227.4 416.0,228.5 416.4,226.9 416.8,228.9 417.2,228.2 417.6,230.0 418.0,229.0 418.4,227.8 418.8,230.4 419.2,228.5 419.6,229.9 420.0,228.7 420.4,230.1 420.8,228.6 421.2,229.9 421.6,228.1 422.0,230.8 422.4,228.4 422.8,229.7 423.2,228.4 423.6,230.2 424.0,228.0 424.4,230.7 424.8,228.3 425.2,230.7 425.6,228.8 426.0,231.0 426.4,228.4 426.8,230.3 427.2,229.4 427.6,230.4 428.0,229.0 428.4,230.1 428.8,229.3 429.2,230.9 429.6,229.8 430.0,230.0 430.4,231.2 430.8,228.9 431.2,230.5 431.6,229.4 432.0,230.5 432.4,229.3 432.8,231.0 433.2,229.0 433.6,230.7 434.0,229.4 434.4,231.1 434.8,229.1 435.2,230.3 435.6,229.4 436.0,231.1 436.4,228.8 436.8,231.0 437.2,228.2 437.6,231.0 438.0,228.3 438.4,230.9 438.8,228.1 439.2,230.7 439.6,229.1 440.0,230.3 440.4,228.5 440.8,230.9 441.2,228.1 441.6,230.4 442.0,229.3 442.4,228.2 442.8,230.0 443.2,228.0 443.6,230.5 444.0,228.8 444.4,230.3 444.8,228.1 445.2,230.5 445.6,229.3 446.0,230.1 446.4,228.7 446.8,230.7 447.2,228.5 447.6,230.3 448.0,229.3 448.4,231.2 448.8,229.8 449.2,230.4 449.6,229.3 450.0,230.2 450.4,230.7 450.8,230.0 451.2,230.8 451.6,229.4 452.0,231.3 452.4,230.2 452.8,230.7 453.2,229.2 453.6,231.6 454.0,230.2 454.4,232.0 454.8,230.5 455.2,231.4 455.6,229.5 456.0,231.9 456.4,230.3 456.8,232.2 457.2,230.0 457.6,232.3 458.0,231.0 458.4,229.6 458.8,231.6 459.1,229.8 459.5,231.6 459.9,229.3 460.2,231.9 460.6,229.4 461.0,230.5 461.4,230.2 461.8,225.8 462.2,226.2 462.6,223.7 463.0,223.7 463.4,221.0 465.5,231.0 465.9,229.8 466.3,231.9 466.7,230.3 467.1,231.8 467.5,229.8 467.9,232.4 468.3,230.3 468.7,231.4 469.1,230.0 469.5,232.0 469.9,230.9 470.3,231.9 470.7,230.3 471.1,231.5 471.5,231.1 471.9,232.0 472.3,230.1 472.8,232.7 473.2,230.1 473.6,232.4 474.0,230.7 474.4,232.5 474.8,230.8 475.2,232.5 475.6,230.4 476.0,233.2 476.4,231.0 476.8,232.8 477.2,231.2 477.6,232.4 478.0,231.0 478.4,232.8 478.8,231.0 479.2,233.4 479.6,231.6 480.0,232.0 480.4,232.2 480.8,229.0 481.2,230.8 481.6,228.0 482.0,228.8 482.4,226.6 482.8,228.0 483.2,224.4 483.6,225.0 484.0,227.4 484.4,226.3 484.8,230.4 485.2,229.0 485.6,232.3 486.0,233.0 486.4,232.2 486.8,234.2 487.2,232.3 487.6,234.2 488.0,232.2 488.4,233.6 488.8,232.2 489.2,233.3 489.6,232.4 490.0,233.7 490.4,232.8 490.8,233.4 491.2,232.5 491.6,234.3 492.0,232.1 492.4,233.5 492.8,231.5 493.2,233.5 493.6,232.2 494.0,234.1 494.4,231.9 494.8,233.7 495.2,231.8 495.6,233.8 496.0,231.9 496.4,233.8 496.8,231.5 497.2,234.1 497.6,232.7 498.0,233.3 498.4,231.5 498.8,233.5 499.2,232.8 499.6,233.5 500.0,233.0 500.4,232.2 500.8,234.5 501.2,232.4 501.6,234.2 502.0,231.8 502.4,233.4 502.8,232.1 503.2,234.6 503.6,232.3 504.0,234.0 504.4,232.6 504.8,234.6 505.2,231.8 505.6,233.5 506.0,232.4 506.4,234.0 506.8,232.2 507.2,233.6 507.6,232.8 508.0,233.9 508.4,232.6 508.8,234.6 509.2,232.1 509.6,234.6 510.0,232.4 510.4,233.7 510.8,232.8 511.2,234.5 511.6,232.9 512.0,234.3 512.4,232.1 512.8,233.8 513.2,232.2 513.6,233.9 514.0,232.9 514.4,235.0 514.8,233.2 515.2,234.5 515.6,232.9 516.0,235.0 516.4,232.2 516.8,234.2 517.2,232.9 517.6,235.1 518.0,232.9 518.4,234.2 518.8,232.6 519.2,234.4 519.6,233.0 520.0,234.0 520.4,232.4 520.8,234.9 521.2,232.5 521.6,235.4 522.0,233.4 522.4,234.8 522.8,233.2 523.2,235.1 523.6,232.7 524.0,234.0"/><polyline points="47.0,191.0 47.4,190.8 47.8,192.6 48.2,190.3 48.6,192.1 49.0,190.9 49.4,192.7 49.8,191.0 50.2,193.4 50.6,192.1 51.0,192.7 51.4,191.4 51.8,193.5 52.2,191.8 52.6,193.3 53.0,192.5 53.4,194.5 53.8,193.1 54.2,195.1 54.6,192.5 55.0,194.0 55.4,194.2 55.8,193.8 56.2,194.9 56.7,192.6 57.1,194.7 57.5,193.6 57.9,194.7 58.3,193.8 58.8,194.4 59.2,193.3 59.6,194.8 60.0,194.0 60.4,193.7 60.8,194.8 61.2,194.0 61.6,195.4 62.0,194.2 62.4,195.1 62.8,193.8 63.2,196.1 63.6,194.4 64.0,195.9 64.4,194.2 64.8,197.2 65.2,195.7 65.6,196.7 66.0,196.3 66.4,193.9 66.8,194.8 67.2,191.0 67.7,191.9 68.1,188.6 68.5,189.6 68.9,186.7 69.3,186.0" stroke-width="1.3"/><polyline points="73.8,193.0 74.2,193.4 74.6,190.7 75.0,192.8 75.4,191.0 75.8,189.8 76.2,191.1 76.7,189.6 77.1,189.9 77.5,189.0 77.9,188.8 78.3,191.7 78.7,191.6 79.1,193.9 79.5,194.0 79.9,191.3 80.3,191.9 80.8,188.5 81.2,188.3 81.6,186.0" stroke-width="1.3"/><polyline points="97.0,178.8 97.4,178.7 97.8,181.6 98.1,180.3 98.5,182.6 98.9,181.9 99.2,183.6 99.6,184.0 100.0,185.0 100.4,186.6 100.7,184.5 101.1,187.5 101.5,186.3 101.8,187.9 102.2,188.0 102.6,187.0 103.0,189.2 103.4,186.4 103.8,188.4 104.1,186.1 104.5,187.7 104.9,186.3 105.3,187.0" stroke-width="1.3"/><polyline points="111.0,189.0 111.4,191.3 111.8,189.7 112.2,192.3 112.7,191.8 113.1,194.1 113.5,194.0 113.9,192.8 114.3,194.6 114.7,193.5 115.1,196.2 115.5,193.8 116.0,196.5 116.4,194.4 116.8,196.7 117.2,195.2 117.6,196.3 118.0,197.3 118.4,196.7 118.8,198.6 119.2,196.6 119.7,198.3 120.1,197.3 120.5,199.3 120.9,198.1 121.3,199.7 121.7,199.4 122.1,199.3 122.5,202.0 122.9,200.9 123.3,203.5 123.8,203.3 124.2,204.8 124.6,204.8 125.0,206.0 125.4,207.0 125.8,204.8 126.2,207.4 126.6,205.0 127.0,207.6 127.4,205.9 127.8,207.8 128.2,205.5 128.6,206.9 129.0,206.5 129.4,206.9 129.8,205.6 130.2,207.4 130.6,206.6 131.0,207.0 131.4,207.6 131.8,205.6 132.1,206.1 132.5,205.1 132.9,206.0 133.2,204.4 133.6,204.9 134.0,204.0 134.4,202.0 134.8,203.0 135.2,200.7 135.6,201.2 136.0,199.3 136.4,199.3 136.8,197.0 137.2,197.2 137.6,195.6 138.0,195.0 138.4,197.1 138.8,195.7 139.2,197.7 139.7,197.0 140.1,200.0 140.5,199.3 140.9,200.4 141.3,200.7 141.8,202.9 142.2,202.1 142.6,204.4 143.0,204.0 143.4,203.5 143.8,206.0 144.2,205.2 144.6,207.6 145.0,205.4 145.4,208.0 145.8,207.3 146.2,209.3 146.6,208.1 147.0,210.3 147.4,209.3 147.8,211.4 148.2,210.7 148.6,212.0 149.0,212.0 149.4,210.7 149.8,213.7 150.2,212.0 150.6,214.1 151.0,212.4 151.4,214.6 151.8,212.2 152.2,214.3 152.6,213.3 153.0,214.2 153.4,212.9 153.8,214.6 154.2,213.3 154.6,216.2 155.0,215.0 155.4,214.1 155.8,215.4 156.1,213.7 156.5,216.5 156.9,213.9 157.2,215.8 157.6,214.3 158.0,215.0 158.4,215.7 158.8,214.8 159.2,216.4 159.6,214.7 159.9,216.0 160.3,215.4 160.7,216.8 161.1,215.3 161.5,216.8 161.9,215.5 162.3,217.5 162.7,215.0 163.1,216.6 163.4,216.1 163.8,217.3 164.2,215.3 164.6,218.1 165.0,217.0 165.4,215.0 165.8,214.6 166.2,211.7 166.6,212.7 167.0,210.0" stroke-width="1.3"/><polyline points="172.0,218.0 172.4,216.7 172.8,218.9 173.2,217.1 173.6,219.6 174.0,217.9 174.4,220.3 174.8,218.5 175.2,220.2 175.6,218.9 176.0,219.7 176.4,218.1 176.8,220.0 177.2,218.6 177.6,220.8 178.0,220.0 178.4,218.6 178.8,220.3 179.2,218.9 179.6,219.9 180.0,217.9 180.4,220.1 180.8,217.5 181.2,220.1 181.6,218.3 182.0,219.4 182.4,218.1 182.8,218.4 183.2,217.8 183.6,219.2 184.0,216.5 184.4,218.9 184.8,216.8 185.2,218.3 185.6,215.9 186.0,217.0 186.4,217.5 186.8,215.7 187.2,216.9 187.6,215.9 188.0,216.5 188.4,214.4 188.8,216.5 189.2,214.0 189.6,216.0 190.0,214.5 190.4,216.0 190.8,213.3 191.2,214.6 191.6,213.1 192.0,214.3 192.4,213.5 192.8,214.9 193.2,213.2 193.6,213.7 194.0,211.5 194.4,213.5 194.8,212.3 195.2,212.8 195.6,211.7 196.0,212.0 196.4,212.4 196.8,210.1 197.2,211.0 197.6,208.1 198.0,209.5 198.4,205.8 198.8,206.9 199.2,205.1 199.6,205.6 200.0,204.0" stroke-width="1.3"/><polyline points="204.4,210.0 204.8,210.6 205.2,212.8 205.6,212.5 206.0,213.7 206.4,213.0 206.8,215.9 207.2,215.3 207.6,217.9 208.0,218.0 208.4,217.6 208.8,218.6 209.2,217.1 209.6,220.1 210.0,217.3 210.4,219.3 210.8,218.7 211.2,220.3 211.6,218.0 212.0,220.5 212.4,218.7 212.8,221.0 213.2,219.6 213.6,221.1 214.0,219.8 214.4,221.0 214.8,220.5 215.2,221.4 215.6,219.6 216.0,222.0 216.4,220.3 216.8,222.5 217.2,220.3 217.6,222.5 218.0,222.0 218.4,221.5 218.8,222.7 219.2,221.6 219.6,223.6 220.0,221.0 220.4,223.0 220.8,221.9 221.2,223.4 221.6,221.7 222.0,223.6 222.4,222.3 222.8,223.0 223.2,222.4 223.6,223.2 224.0,222.1 224.4,223.3 224.8,222.9 225.2,224.2 225.6,222.7 226.0,224.6 226.4,222.6 226.8,224.8 227.2,223.2 227.6,224.4 228.0,222.4 228.4,224.0 228.8,222.4 229.2,224.3 229.6,222.7 230.0,224.0 230.4,225.5 230.8,222.9 231.2,224.8 231.6,224.0 232.0,225.2 232.4,223.0 232.8,225.0 233.2,223.2 233.6,224.9 234.0,223.3 234.4,224.9 234.8,224.2 235.2,226.2 235.6,223.7 236.0,226.3 236.4,223.7 236.8,226.2 237.2,224.1 237.6,225.6 238.0,224.5 238.4,225.7 238.8,224.3 239.2,226.5 239.6,225.0 240.0,225.6 240.4,225.9 240.8,224.2 241.2,226.9 241.6,224.8 242.0,226.6 242.4,224.4 242.8,226.5 243.2,225.0 243.6,226.4 244.0,225.3 244.4,226.0 244.8,224.8 245.2,226.5 245.6,224.9 246.0,226.1 246.4,225.2 246.8,226.2 247.2,225.6 247.6,226.4 248.0,224.7 248.4,226.6 248.8,225.3 249.2,226.9 249.6,225.5 250.0,226.0 250.4,225.9 250.8,224.6 251.1,226.1 251.5,224.0 251.9,225.5 252.2,223.4 252.6,225.4 253.0,224.0" stroke-width="1.3"/><polyline points="258.4,224.0 258.8,223.2 259.1,224.2 259.5,222.3 259.9,223.3 260.3,221.9 260.6,223.2 261.0,222.0 261.4,220.2 261.8,222.6 262.2,220.3 262.6,221.4 263.0,219.8 263.4,219.8 263.8,218.4 264.2,220.1 264.6,218.0 265.0,218.0 265.4,219.5 265.8,217.3 266.2,219.6 266.7,218.2 267.1,221.0 267.5,219.3 267.9,221.4 268.3,219.5 268.8,222.0 269.2,220.0 269.6,223.0 270.0,222.0 270.4,220.6 270.8,223.1 271.2,221.9 271.6,222.8 272.0,222.0 272.4,223.4 272.8,221.4 273.2,222.9 273.6,221.6 274.0,223.9 274.4,222.3 274.8,223.8 275.2,222.7 275.6,224.3 276.0,223.0 276.4,224.8 276.8,222.1 277.2,224.4 277.6,223.0 278.0,223.6 278.4,225.1 278.8,222.3 279.2,224.1 279.6,222.7 280.0,225.2 280.4,223.0 280.8,225.2 281.2,223.4 281.6,225.6 282.0,222.8 282.4,225.0 282.8,223.2 283.2,225.2 283.6,224.2 284.0,225.2 284.4,224.4 284.8,226.2 285.2,223.4 285.6,225.2 286.0,225.0 286.4,223.8 286.8,225.3 287.2,224.1 287.6,224.7 288.0,223.5 288.4,225.0 288.8,223.4 289.2,223.8 289.6,222.5 290.0,223.2 290.4,221.8 290.8,223.6 291.2,221.1 291.6,222.6 292.0,221.5 292.4,222.7 292.8,221.1 293.2,222.3 293.6,220.7 294.0,221.0 294.4,221.9 294.8,219.5 295.2,221.8 295.6,219.0 296.0,221.2 296.4,219.3 296.8,221.3 297.2,218.7 297.6,220.6 298.0,218.9 298.4,220.0 298.8,219.0 299.2,220.4 299.6,218.7 300.0,220.0 300.4,217.8 300.8,220.0 301.2,217.3 301.6,219.7 302.0,217.8 302.4,218.0 302.8,219.1 303.2,217.6 303.6,219.4 304.0,218.3 304.4,220.1 304.8,218.9 305.2,220.2 305.6,219.5 306.0,221.3 306.4,220.3 306.8,221.8 307.2,220.2 307.6,222.8 308.0,222.0 308.4,221.7 308.8,224.0 309.1,222.8 309.5,224.4 309.9,224.3 310.2,225.5 310.6,224.5 311.0,226.0 311.4,226.9 311.8,223.9 312.2,225.6 312.6,222.9 313.0,224.0" stroke-width="1.3"/><polyline points="317.0,226.0 317.4,226.9 317.8,225.1 318.2,227.2 318.7,225.5 319.1,228.3 319.5,226.4 319.9,227.5 320.3,226.3 320.8,228.4 321.2,227.0 321.6,228.0 322.0,228.0 322.4,227.4 322.8,228.8 323.2,227.5 323.6,229.5 324.0,227.3 324.4,229.4 324.8,227.0 325.2,229.6 325.6,227.6 326.0,229.7 326.4,227.5 326.8,229.6 327.2,227.6 327.6,229.4 328.0,227.8 328.4,229.8 328.8,227.4 329.2,230.1 329.6,227.7 330.0,229.0 330.4,230.2 330.8,227.7 331.2,230.0 331.6,228.4 332.0,229.5 332.4,227.9 332.8,230.3 333.2,228.1 333.6,229.4 334.0,227.7 334.4,229.8 334.8,228.2 335.2,229.2 335.6,228.2 336.0,230.2 336.4,228.3 336.8,229.6 337.2,228.0 337.6,229.2 338.0,228.2 338.4,230.4 338.8,227.9 339.2,229.7 339.6,227.9 340.0,229.0 340.4,230.0 340.8,228.6 341.2,229.6 341.6,227.8 342.0,229.7 342.4,229.0 342.8,230.6 343.2,228.5 343.6,230.0 344.0,228.6 344.4,230.6 344.8,229.1 345.2,230.6 345.6,228.4 346.0,230.9 346.4,229.1 346.8,230.7 347.2,229.3 347.6,230.7 348.0,229.4 348.4,231.1 348.8,228.6 349.2,230.5 349.6,229.5 350.0,230.0 350.4,231.3 350.8,228.6 351.2,230.9 351.6,229.3 352.0,230.7 352.4,228.2 352.8,229.6 353.2,228.2 353.6,230.0 354.0,227.5 354.4,228.9 354.8,227.4 355.2,228.6 355.6,226.7 356.0,228.0 356.4,228.0 356.8,225.2 357.2,226.9 357.6,224.1 358.0,224.8 358.4,223.6 358.8,223.4 359.1,225.2 359.5,225.1 359.9,227.2 360.3,226.1 360.6,228.5 361.0,228.0 361.4,227.6 361.8,229.2 362.2,227.0 362.6,228.7 363.0,227.9 363.5,229.0 363.9,227.5 364.3,228.6 364.7,228.0 365.1,228.7 365.5,227.5 365.9,229.9 366.3,228.1 366.7,228.8 367.1,227.6 367.5,230.0 368.0,227.3 368.4,229.8 368.8,228.3 369.2,230.2 369.6,228.6 370.0,229.0 370.4,230.1 370.8,228.7 371.2,229.7 371.6,228.2 372.0,229.7 372.4,228.6 372.8,229.5 373.2,227.7 373.7,229.8 374.1,228.1 374.5,229.4 374.9,227.9 375.3,229.6 375.7,228.0 376.1,230.4 376.5,227.5 376.9,229.2 377.3,227.8 377.7,230.3 378.1,228.4 378.5,229.7 378.9,228.1 379.3,230.4 379.8,228.3 380.2,230.3 380.6,227.8 381.0,229.4 381.4,227.6 381.8,229.2 382.2,228.7 382.6,230.0 383.0,229.0 383.4,228.7 383.8,229.5 384.2,228.4 384.6,229.4 385.0,227.2 385.4,229.8 385.8,228.1 386.2,228.4 386.6,226.8 387.0,228.0" stroke-width="1.3"/><polyline points="391.5,228.0 391.9,228.1 392.3,227.4 392.7,228.1 393.1,227.5 393.5,227.9 393.9,226.6 394.3,228.7 394.8,226.4 395.2,228.7 395.6,226.3 396.0,228.0 396.4,226.2 396.8,228.6 397.2,226.1 397.6,227.5 398.0,227.0 398.4,226.6 398.8,228.1 399.2,225.6 399.6,227.0 400.0,225.2 400.4,226.9 400.8,225.0 401.2,226.0 401.6,224.9 402.0,226.1 402.4,224.8 402.8,226.4 403.2,224.2 403.6,225.8 404.0,223.5 404.4,225.6 404.8,223.2 405.2,225.3 405.6,223.5 406.0,225.3 406.4,223.3 406.8,224.9 407.2,222.0 407.6,224.5 408.0,223.0 408.4,223.0 408.8,223.8 409.2,222.5 409.6,224.7 410.0,223.6 410.4,225.9 410.8,224.5 411.2,225.8 411.6,224.4 412.0,225.7 412.4,225.0 412.8,227.0 413.2,224.8 413.6,226.5 414.0,225.7 414.4,227.1 414.8,225.8 415.2,227.6 415.6,227.4 416.0,228.5 416.4,226.9 416.8,228.9 417.2,228.2 417.6,230.0 418.0,229.0 418.4,227.8 418.8,230.4 419.2,228.5 419.6,229.9 420.0,228.7 420.4,230.1 420.8,228.6 421.2,229.9 421.6,228.1 422.0,230.8 422.4,228.4 422.8,229.7 423.2,228.4 423.6,230.2 424.0,228.0 424.4,230.7 424.8,228.3 425.2,230.7 425.6,228.8 426.0,231.0 426.4,228.4 426.8,230.3 427.2,229.4 427.6,230.4 428.0,229.0 428.4,230.1 428.8,229.3 429.2,230.9 429.6,229.8 430.0,230.0 430.4,231.2 430.8,228.9 431.2,230.5 431.6,229.4 432.0,230.5 432.4,229.3 432.8,231.0 433.2,229.0 433.6,230.7 434.0,229.4 434.4,231.1 434.8,229.1 435.2,230.3 435.6,229.4 436.0,231.1 436.4,228.8 436.8,231.0 437.2,228.2 437.6,231.0 438.0,228.3 438.4,230.9 438.8,228.1 439.2,230.7 439.6,229.1 440.0,230.3 440.4,228.5 440.8,230.9 441.2,228.1 441.6,230.4 442.0,229.3 442.4,228.2 442.8,230.0 443.2,228.0 443.6,230.5 444.0,228.8 444.4,230.3 444.8,228.1 445.2,230.5 445.6,229.3 446.0,230.1 446.4,228.7 446.8,230.7 447.2,228.5 447.6,230.3 448.0,229.3 448.4,231.2 448.8,229.8 449.2,230.4 449.6,229.3 450.0,230.2 450.4,230.7 450.8,230.0 451.2,230.8 451.6,229.4 452.0,231.3 452.4,230.2 452.8,230.7 453.2,229.2 453.6,231.6 454.0,230.2 454.4,232.0 454.8,230.5 455.2,231.4 455.6,229.5 456.0,231.9 456.4,230.3 456.8,232.2 457.2,230.0 457.6,232.3 458.0,231.0 458.4,229.6 458.8,231.6 459.1,229.8 459.5,231.6 459.9,229.3 460.2,231.9 460.6,229.4 461.0,230.5 461.4,230.2 461.8,225.8 462.2,226.2 462.6,223.7 463.0,223.7 463.4,221.0" stroke-width="1.3"/><polyline points="465.5,231.0 465.9,229.8 466.3,231.9 466.7,230.3 467.1,231.8 467.5,229.8 467.9,232.4 468.3,230.3 468.7,231.4 469.1,230.0 469.5,232.0 469.9,230.9 470.3,231.9 470.7,230.3 471.1,231.5 471.5,231.1 471.9,232.0 472.3,230.1 472.8,232.7 473.2,230.1 473.6,232.4 474.0,230.7 474.4,232.5 474.8,230.8 475.2,232.5 475.6,230.4 476.0,233.2 476.4,231.0 476.8,232.8 477.2,231.2 477.6,232.4 478.0,231.0 478.4,232.8 478.8,231.0 479.2,233.4 479.6,231.6 480.0,232.0 480.4,232.2 480.8,229.0 481.2,230.8 481.6,228.0 482.0,228.8 482.4,226.6 482.8,228.0 483.2,224.4 483.6,225.0 484.0,227.4 484.4,226.3 484.8,230.4 485.2,229.0 485.6,232.3 486.0,233.0 486.4,232.2 486.8,234.2 487.2,232.3 487.6,234.2 488.0,232.2 488.4,233.6 488.8,232.2 489.2,233.3 489.6,232.4 490.0,233.7 490.4,232.8 490.8,233.4 491.2,232.5 491.6,234.3 492.0,232.1 492.4,233.5 492.8,231.5 493.2,233.5 493.6,232.2 494.0,234.1 494.4,231.9 494.8,233.7 495.2,231.8 495.6,233.8 496.0,231.9 496.4,233.8 496.8,231.5 497.2,234.1 497.6,232.7 498.0,233.3 498.4,231.5 498.8,233.5 499.2,232.8 499.6,233.5 500.0,233.0 500.4,232.2 500.8,234.5 501.2,232.4 501.6,234.2 502.0,231.8 502.4,233.4 502.8,232.1 503.2,234.6 503.6,232.3 504.0,234.0 504.4,232.6 504.8,234.6 505.2,231.8 505.6,233.5 506.0,232.4 506.4,234.0 506.8,232.2 507.2,233.6 507.6,232.8 508.0,233.9 508.4,232.6 508.8,234.6 509.2,232.1 509.6,234.6 510.0,232.4 510.4,233.7 510.8,232.8 511.2,234.5 511.6,232.9 512.0,234.3 512.4,232.1 512.8,233.8 513.2,232.2 513.6,233.9 514.0,232.9 514.4,235.0 514.8,233.2 515.2,234.5 515.6,232.9 516.0,235.0 516.4,232.2 516.8,234.2 517.2,232.9 517.6,235.1 518.0,232.9 518.4,234.2 518.8,232.6 519.2,234.4 519.6,233.0 520.0,234.0 520.4,232.4 520.8,234.9 521.2,232.5 521.6,235.4 522.0,233.4 522.4,234.8 522.8,233.2 523.2,235.1 523.6,232.7 524.0,234.0" stroke-width="1.3"/></g>
<rect x="47.3" y="10.3" width="477.70" height="352.20" fill="none" stroke="#222" stroke-width="1.7"/>
<path d="M47.30,362.50V369.50M47.30,10.30V17.30M65.67,362.50V366.00M65.67,10.30V13.80M84.05,362.50V369.50M84.05,10.30V17.30M102.42,362.50V366.00M102.42,10.30V13.80M120.79,362.50V369.50M120.79,10.30V17.30M139.17,362.50V366.00M139.17,10.30V13.80M157.54,362.50V369.50M157.54,10.30V17.30M175.91,362.50V366.00M175.91,10.30V13.80M194.28,362.50V369.50M194.28,10.30V17.30M212.66,362.50V366.00M212.66,10.30V13.80M231.03,362.50V369.50M231.03,10.30V17.30M249.40,362.50V366.00M249.40,10.30V13.80M267.78,362.50V369.50M267.78,10.30V17.30M286.15,362.50V366.00M286.15,10.30V13.80M304.52,362.50V369.50M304.52,10.30V17.30M322.90,362.50V366.00M322.90,10.30V13.80M341.27,362.50V369.50M341.27,10.30V17.30M359.64,362.50V366.00M359.64,10.30V13.80M378.02,362.50V369.50M378.02,10.30V17.30M396.39,362.50V366.00M396.39,10.30V13.80M414.76,362.50V369.50M414.76,10.30V17.30M433.13,362.50V366.00M433.13,10.30V13.80M451.51,362.50V369.50M451.51,10.30V17.30M469.88,362.50V366.00M469.88,10.30V13.80M488.25,362.50V369.50M488.25,10.30V17.30M506.63,362.50V366.00M506.63,10.30V13.80M525.00,362.50V369.50M525.00,10.30V17.30" stroke="#222" stroke-width="1.7" fill="none"/>
<text x="46.80" y="390.6" text-anchor="middle" font-size="20.2" stroke="#000" stroke-width="0.25">35</text><text x="83.55" y="390.6" text-anchor="middle" font-size="20.2" stroke="#000" stroke-width="0.25">40</text><text x="120.29" y="390.6" text-anchor="middle" font-size="20.2" stroke="#000" stroke-width="0.25">45</text><text x="157.04" y="390.6" text-anchor="middle" font-size="20.2" stroke="#000" stroke-width="0.25">50</text><text x="193.78" y="390.6" text-anchor="middle" font-size="20.2" stroke="#000" stroke-width="0.25">55</text><text x="230.53" y="390.6" text-anchor="middle" font-size="20.2" stroke="#000" stroke-width="0.25">60</text><text x="267.28" y="390.6" text-anchor="middle" font-size="20.2" stroke="#000" stroke-width="0.25">65</text><text x="304.02" y="390.6" text-anchor="middle" font-size="20.2" stroke="#000" stroke-width="0.25">70</text><text x="340.77" y="390.6" text-anchor="middle" font-size="20.2" stroke="#000" stroke-width="0.25">75</text><text x="377.52" y="390.6" text-anchor="middle" font-size="20.2" stroke="#000" stroke-width="0.25">80</text><text x="414.26" y="390.6" text-anchor="middle" font-size="20.2" stroke="#000" stroke-width="0.25">85</text><text x="451.01" y="390.6" text-anchor="middle" font-size="20.2" stroke="#000" stroke-width="0.25">90</text><text x="487.75" y="390.6" text-anchor="middle" font-size="20.2" stroke="#000" stroke-width="0.25">95</text><text x="524.50" y="390.6" text-anchor="middle" font-size="20.2" stroke="#000" stroke-width="0.25">100</text>
<text transform="translate(114.3,62.4) rotate(-90)" font-size="18.5" fill="#000">(110)</text><path d="M102.75,66.45H113.25L108.00,75.55Z" fill="#000"/><text transform="translate(262.0,117.5) rotate(-90)" font-size="18.5" fill="#000">(200)</text><path d="M251.15,120.05H261.65L256.40,129.15Z" fill="#000"/><text transform="translate(396.1,92.0) rotate(-90)" font-size="18.5" fill="#000">(220)</text><path d="M384.75,95.45H395.25L390.00,104.55Z" fill="#000"/><text transform="translate(365.8,203.5) rotate(-90)" font-size="18.5" fill="#000">(211)</text><path d="M354.45,207.15H364.95L359.70,216.25Z" fill="#000"/><text transform="translate(469.2,204.3) rotate(-90)" font-size="18.5" fill="#000">(222)</text><path d="M458.35,207.15H468.85L463.60,216.25Z" fill="#000"/><text transform="translate(489.7,204.3) rotate(-90)" font-size="18.5" fill="#000">(310)</text><path d="M479.15,207.15H489.65L484.40,216.25Z" fill="#000"/><text transform="translate(98.7,103.5) rotate(-90)" font-size="18.5" fill="#ff0000">(101)</text><circle cx="93" cy="108.5" r="4.7" fill="#ff0000"/><text transform="translate(120.2,120.5) rotate(-90)" font-size="18.5" fill="#ff0000">(110)</text><circle cx="114.4" cy="125.8" r="4.7" fill="#ff0000"/><text transform="translate(174.7,157.8) rotate(-90)" font-size="18.5" fill="#ff0000">(111)</text><circle cx="169" cy="164.4" r="4.7" fill="#ff0000"/><text transform="translate(208.0,163.5) rotate(-90)" font-size="18.5" fill="#ff0000">(002)</text><circle cx="201.5" cy="170.5" r="4.7" fill="#ff0000"/><text transform="translate(268.7,176.0) rotate(-90)" font-size="18.5" fill="#ff0000">(200)</text><circle cx="262.4" cy="182.8" r="4.7" fill="#ff0000"/><text transform="translate(316.7,66.0) rotate(-90)" font-size="18.5" fill="#ff0000">(201)</text><circle cx="310" cy="72" r="4.7" fill="#ff0000"/><text transform="translate(88.1,138.7) rotate(-90)" font-size="18.5" fill="#808080">(111)</text><polygon points="83.40,140.90 88.25,144.42 86.40,150.13 80.40,150.13 78.55,144.42" fill="#7f7f7f"/><text transform="translate(137.9,176.7) rotate(-90)" font-size="18.5" fill="#808080">(200)</text><polygon points="132.00,177.80 136.85,181.32 135.00,187.03 129.00,187.03 127.15,181.32" fill="#7f7f7f"/><text transform="translate(295.7,203.7) rotate(-90)" font-size="18.5" fill="#808080">(220)</text><polygon points="289.00,204.50 293.85,208.02 292.00,213.73 286.00,213.73 284.15,208.02" fill="#7f7f7f"/><text transform="translate(396.7,163.5) rotate(-90)" font-size="18.5" fill="#808080">(311)</text><polygon points="391.80,165.70 396.65,169.22 394.80,174.93 388.80,174.93 386.95,169.22" fill="#7f7f7f"/><text transform="translate(431.2,203.7) rotate(-90)" font-size="18.5" fill="#808080">(222)</text><polygon points="424.40,204.50 429.25,208.02 427.40,213.73 421.40,213.73 419.55,208.02" fill="#7f7f7f"/><polygon points="71.00,158.50 72.38,161.70 75.85,162.02 73.23,164.33 74.00,167.73 71.00,165.95 68.00,167.73 68.77,164.33 66.15,162.02 69.62,161.70" fill="#fb8010"/><polygon points="78.00,170.90 79.38,174.10 82.85,174.42 80.23,176.73 81.00,180.13 78.00,178.35 75.00,180.13 75.77,176.73 73.15,174.42 76.62,174.10" fill="#fb8010"/><polygon points="123.80,189.10 125.18,192.30 128.65,192.62 126.03,194.93 126.80,198.33 123.80,196.55 120.80,198.33 121.57,194.93 118.95,192.62 122.42,192.30" fill="#fb8010"/><polygon points="183.30,189.60 184.68,192.80 188.15,193.12 185.53,195.43 186.30,198.83 183.30,197.05 180.30,198.83 181.07,195.43 178.45,193.12 181.92,192.80" fill="#fb8010"/><polygon points="193.30,189.60 194.68,192.80 198.15,193.12 195.53,195.43 196.30,198.83 193.30,197.05 190.30,198.83 191.07,195.43 188.45,193.12 191.92,192.80" fill="#fb8010"/><polygon points="266.00,203.90 267.38,207.10 270.85,207.42 268.23,209.73 269.00,213.13 266.00,211.35 263.00,213.13 263.77,209.73 261.15,207.42 264.62,207.10" fill="#fb8010"/><polygon points="405.60,204.50 406.98,207.70 410.45,208.02 407.83,210.33 408.60,213.73 405.60,211.95 402.60,213.73 403.37,210.33 400.75,208.02 404.22,207.70" fill="#fb8010"/>
<path d="M411.85,26.85H422.35L417.10,35.95Z" fill="#000"/><circle cx="417.1" cy="51.2" r="4.7" fill="#ff0000"/><polygon points="417.10,73.90 418.48,77.10 421.95,77.42 419.33,79.73 420.10,83.13 417.10,81.35 414.10,83.13 414.87,79.73 412.25,77.42 415.72,77.10" fill="#fb8010"/><polygon points="417.10,94.30 421.95,97.82 420.10,103.53 414.10,103.53 412.25,97.82" fill="#7f7f7f"/><text x="441.5" y="35.5" font-size="17.5"><tspan font-family="Liberation Serif, serif" font-style="italic">α</tspan>-(Fe, Pd)</text><text x="441.5" y="57.5" font-size="17.5">H<tspan font-size="11" dy="6">2</tspan><tspan dy="-6">Pd</tspan><tspan font-size="11" dy="6">1.5</tspan></text><text x="441.5" y="83.5" font-size="17.5">Substrate</text><text x="441.5" y="105" font-size="17.5">Pd</text>
<text x="501" y="222.5" font-size="22" letter-spacing="1.3" fill="#0aeef6">d)</text><text x="502" y="259" font-size="22" letter-spacing="1.5" fill="#ff0000">c)</text><text x="501.5" y="302.7" font-size="22" letter-spacing="1" fill="#0000ff">b)</text><text x="500" y="341.2" font-size="22" letter-spacing="1.5" fill="#ff00ff">a)</text>
<text transform="translate(25.6,222) rotate(-90)" font-size="22">A.U.</text><text x="274" y="427" font-size="22">2<tspan font-family="Liberation Serif, serif" dx="0.5">θ</tspan></text>
</svg>
</body></html>
